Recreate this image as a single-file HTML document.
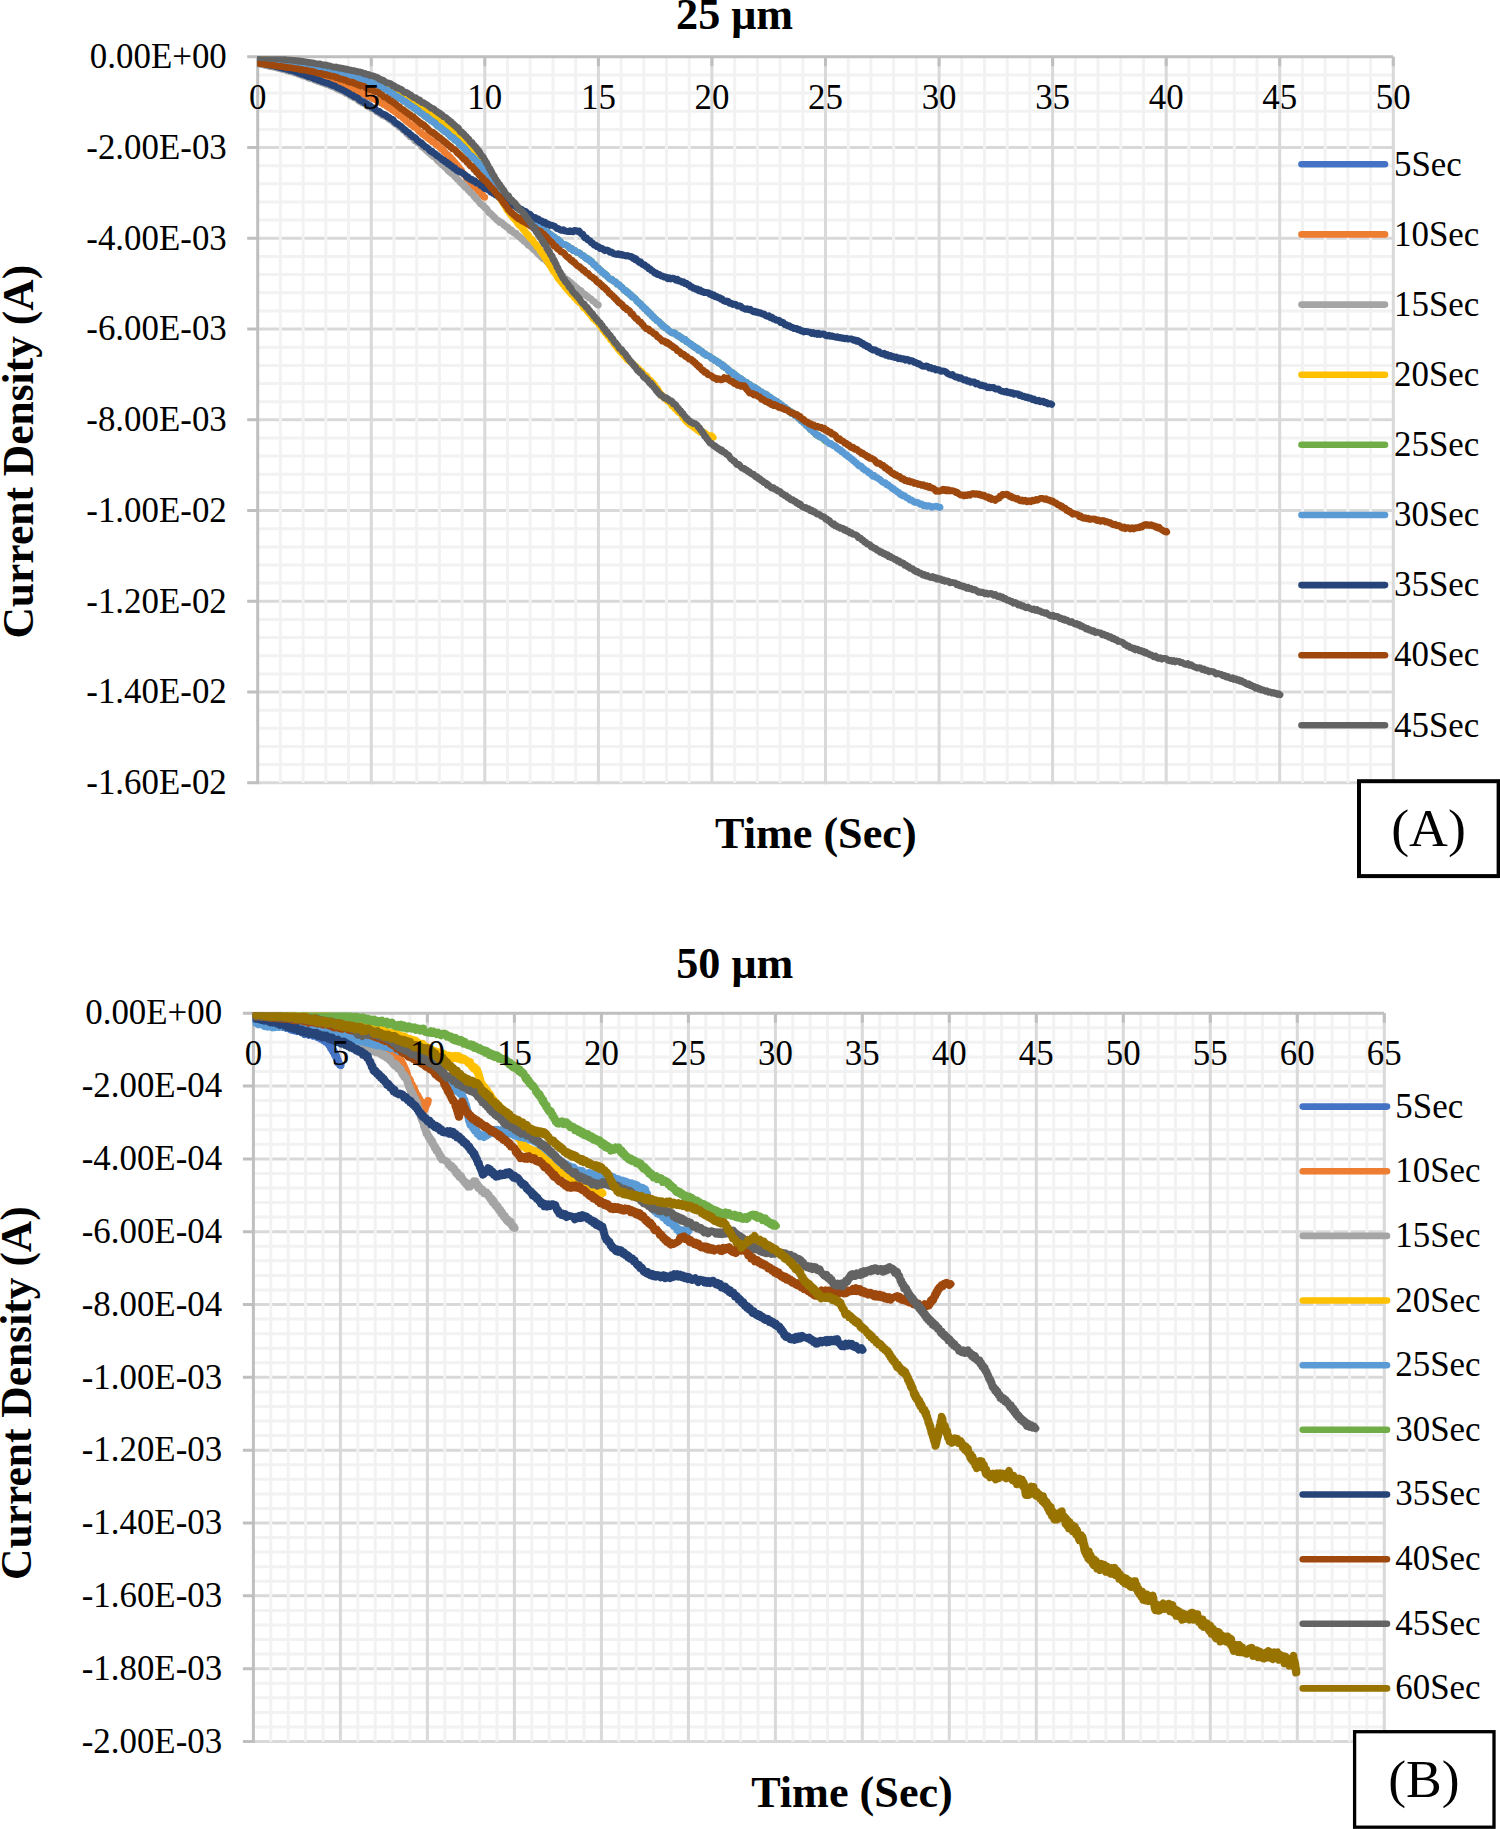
<!DOCTYPE html>
<html lang="en">
<head>
<meta charset="utf-8">
<title>Current density vs time: 25 μm and 50 μm</title>
<style>
html,body{margin:0;padding:0;background:#fff;}
body{width:1500px;height:1829px;overflow:hidden;font-family:"Liberation Serif", "DejaVu Serif", serif;}
svg{display:block;}
</style>
</head>
<body>
<svg width="1500" height="1829" viewBox="0 0 1500 1829" font-family='"Liberation Serif", "DejaVu Serif", serif' fill="#000">
<rect width="1500" height="1829" fill="#fff"/>
<g id="chartA">
<path d="M257.7 147.6H1394.8M257.7 238.3H1394.8M257.7 329.1H1394.8M257.7 419.8H1394.8M257.7 510.6H1394.8M257.7 601.3H1394.8M257.7 692H1394.8M257.7 782.8H1394.8" stroke="#d9d9d9" stroke-width="3" fill="none"/>
<path d="M257.7 74.9H1393.3M257.7 93.1H1393.3M257.7 111.2H1393.3M257.7 129.4H1393.3M257.7 165.7H1393.3M257.7 183.8H1393.3M257.7 202H1393.3M257.7 220.1H1393.3M257.7 256.4H1393.3M257.7 274.6H1393.3M257.7 292.8H1393.3M257.7 310.9H1393.3M257.7 347.2H1393.3M257.7 365.4H1393.3M257.7 383.5H1393.3M257.7 401.7H1393.3M257.7 437.9H1393.3M257.7 456.1H1393.3M257.7 474.2H1393.3M257.7 492.4H1393.3M257.7 528.7H1393.3M257.7 546.9H1393.3M257.7 565H1393.3M257.7 583.1H1393.3M257.7 619.4H1393.3M257.7 637.6H1393.3M257.7 655.8H1393.3M257.7 673.9H1393.3M257.7 710.2H1393.3M257.7 728.3H1393.3M257.7 746.5H1393.3M257.7 764.6H1393.3" stroke="#f2f2f2" stroke-width="3" fill="none"/>
<path d="M371.3 56.8V784.3M484.8 56.8V784.3M598.4 56.8V784.3M711.9 56.8V784.3M825.5 56.8V784.3M939.1 56.8V784.3M1052.6 56.8V784.3M1166.2 56.8V784.3M1279.7 56.8V784.3M1393.3 56.8V784.3" stroke="#d9d9d9" stroke-width="3" fill="none"/>
<path d="M280.4 56.8V783.1M303.1 56.8V783.1M325.8 56.8V783.1M348.5 56.8V783.1M394 56.8V783.1M416.7 56.8V783.1M439.4 56.8V783.1M462.1 56.8V783.1M507.5 56.8V783.1M530.2 56.8V783.1M553 56.8V783.1M575.7 56.8V783.1M621.1 56.8V783.1M643.8 56.8V783.1M666.5 56.8V783.1M689.2 56.8V783.1M734.7 56.8V783.1M757.4 56.8V783.1M780.1 56.8V783.1M802.8 56.8V783.1M848.2 56.8V783.1M870.9 56.8V783.1M893.6 56.8V783.1M916.3 56.8V783.1M961.8 56.8V783.1M984.5 56.8V783.1M1007.2 56.8V783.1M1029.9 56.8V783.1M1075.3 56.8V783.1M1098 56.8V783.1M1120.8 56.8V783.1M1143.5 56.8V783.1M1188.9 56.8V783.1M1211.6 56.8V783.1M1234.3 56.8V783.1M1257 56.8V783.1M1302.5 56.8V783.1M1325.2 56.8V783.1M1347.9 56.8V783.1M1370.6 56.8V783.1" stroke="#f2f2f2" stroke-width="3" fill="none"/>
<path d="M247.2 56.8H1393.1M257.7 55.3V784.3M247.2 147.6H257.7M247.2 238.3H257.7M247.2 329.1H257.7M247.2 419.8H257.7M247.2 510.6H257.7M247.2 601.3H257.7M247.2 692H257.7M247.2 782.8H257.7M371.3 56.8V66.3M484.8 56.8V66.3M598.4 56.8V66.3M711.9 56.8V66.3M825.5 56.8V66.3M939.1 56.8V66.3M1052.6 56.8V66.3M1166.2 56.8V66.3M1279.7 56.8V66.3M1393.3 56.8V66.3" stroke="#bfbfbf" stroke-width="3" fill="none"/>
<clipPath id="clipA"><rect x="257" y="56.2" width="1300" height="900"/></clipPath>
<g clip-path="url(#clipA)">
<path d="M257 61.9 258.3 62.3 259.7 62.4 261.5 62.7 263.3 63.2 265.1 63.3 266.7 63.6 268.3 64.1 269.9 64.2 271.5 64.6 273.1 64.7 274.7 65.2 276.2 65.2 277.7 65.5 279.3 66 280.8 66 282.3 66.6 283.9 66.5 285.4 66.8 286.8 67.5 288.3 67.8 289.8 67.7 291.3 68.4 292.8 68.4 294.2 69 295.9 69.2 297.6 69.5 299.2 70.3 300.9 70.8 302.6 70.9 304.2 71.1 305.9 72 307.5 72.1 309.1 72.9 310.7 73 312.3 73.9 313.9 74.1 315.4 74.9 317 75.1 318.5 76 320 76.1 321.6 76.9 323.1 77.1 324.6 78.1 326.1 78.2 327.7 78.7 329.2 79.8 330.7 79.9 332.2 80.9 333.7 81 335.1 81.6 336.6 82.6 338.1 82.9 339.6 83.8 341.1 83.9 342.5 85.1 344 85.3 345.4 86.3 346.9 86.5 348.3 87.6 349.8 87.6 351.2 89 352.6 89.1 354 90.2 355.4 91 356.8 91.1 358.2 92.4 359.8 93.2 361.4 93.4 363 94.5 364.6 94.7 366 95.2 367.5 96.6 368.9 96.6 371 98" stroke="#4472c4" stroke-width="6.8" fill="none" stroke-linejoin="round" stroke-linecap="round"/>
<path d="M257 62.4 259.1 62.7 260.4 63.2 261.8 63.3 263.2 63.8 264.7 63.8 266.3 64.3 267.8 64.4 269.4 64.9 271 65 272.7 65.5 274.3 65.7 276 66.2 277.6 66.2 279.2 66.5 280.8 67.1 282.3 67.2 283.9 67.8 285.5 67.9 287 68.5 288.5 68.5 290 69.1 291.5 69.2 292.9 69.9 294.4 69.9 295.8 70.5 297.2 70.5 298.6 71.3 300 71.3 301.7 72 303.4 72.2 305 72.5 306.7 73.1 308.3 73.9 309.9 74.5 311.5 74.6 313.1 75.4 314.7 75.9 316.3 76.3 317.8 76.9 319.4 77 320.9 77.8 322.4 77.9 323.9 78.8 325.4 78.7 326.9 79.6 328.4 79.7 329.8 80.2 331.3 81.2 332.8 81.8 334.4 81.8 336 83 337.6 83.6 338.9 83.6 340.3 84.6 341.7 84.5 343 85.7 344.4 86.3 345.9 86.3 347.3 87.3 348.8 87.5 350.2 88.5 351.7 88.6 353.3 89.8 354.8 89.9 356.4 91.1 357.9 91.1 359.5 92.3 360.9 92.5 362.4 93.6 363.8 93.6 365.3 95 366.7 95.1 368.1 96.5 369.4 96.4 370.7 96.8 372.1 98.2 373.4 98.4 374.9 99.7 376.4 99.8 378 101.4 379.5 101.5 380.9 103.2 382.2 103.2 383.6 104.6 385 104.8 386.4 106.3 387.8 106.5 389.2 108.1 390.6 108.5 392 110.1 393.5 110.3 394.9 111.9 396.3 112.4 397.5 114.1 398.6 114.3 399.8 115.9 400.9 115.8 402.1 116.6 403.2 118.3 404.4 118.8 405.6 120.5 406.8 121.5 407.9 122.4 409.1 122.6 410.2 124.2 411.4 125.2 412.6 125.2 413.7 127 414.9 127 416 127.7 417.2 128.8 418.3 130.6 419.5 131.7 420.6 131.8 421.8 133.4 422.9 134.6 424.1 134.4 425.2 136.3 426.3 136.2 427.5 138.1 428.6 138 429.8 139.8 430.9 139.9 432.2 141.9 433.5 141.8 434.8 143 436.1 144.8 437.3 145.2 438.5 146.2 439.7 147.2 440.9 148.9 442 149 443.1 149.8 444.2 152.1 445.2 152.1 446.6 154.5 447.9 154.6 449.2 156.8 450.4 157.1 451.6 159.5 452.8 159.6 453.9 161.9 455.1 162.4 456.2 164.4 457.3 164.7 458.3 167.2 459.4 167.5 460.4 169.4 461.3 169.8 462.3 172.2 463.2 173.5 464.1 174.9 465 175 466.1 177.5 467.3 179.2 468.4 179 469.4 181.7 470.4 182.8 471.3 182.9 472.3 185 473.3 185.3 474.4 187.5 475.6 187.6 476.8 188.8 478 191.1 479.4 191.6 480.7 192.9 481.7 194.9 482.7 195 484 197.2 484.7 197.3" stroke="#ed7d31" stroke-width="6.8" fill="none" stroke-linejoin="round" stroke-linecap="round"/>
<path d="M257 63.4 259.1 64.1 260.4 64.2 261.8 64.7 263.2 64.8 264.7 65.4 266.3 65.8 267.8 65.9 269.4 66.5 271 66.6 272.7 67.2 274.3 67.3 276 67.9 277.6 68.1 279.2 68.7 280.8 68.8 282.3 69.6 283.9 69.7 285.5 70.1 287 70.8 288.5 71 290 71.7 291.5 71.8 292.9 72.2 294.4 73.1 295.8 73.2 297.2 73.6 298.6 74.5 300 74.5 301.7 75.5 303.4 76.2 305 76.4 306.7 77 308.3 78.1 309.9 78.7 311.5 78.8 313.1 79.4 314.7 80.4 316.3 80.6 317.8 81.5 319.4 81.8 320.9 82.6 322.4 82.8 323.9 83.7 325.4 83.9 326.9 84.7 328.4 84.8 329.8 85.8 331.3 86.5 332.6 86.4 333.9 87.5 335.3 87.7 336.6 88.7 338 89.5 339.5 90.2 341 90.5 342.5 91.7 344 91.8 345.5 93.3 346.9 93.5 348.4 94.3 349.8 95.7 351.2 96.4 352.6 96.6 354 98 355.3 98.3 356.7 98.9 358 100.3 359.3 101.4 360.6 101.6 362 103 363.3 103.2 364.6 103.9 366 104.8 367.3 106.2 368.6 107 370 107.2 371.3 108.6 372.6 108.7 374 109.4 375.3 110.2 376.6 111.9 378 112 379.3 113.4 380.6 113.7 382 115.3 383.3 115.1 384.6 116.6 386 116.8 387.3 117.5 388.8 119.2 390.3 119.6 391.8 121.3 393 121.7 394.2 123.3 395.5 124.2 396.7 124.2 398 125.2 399.4 127.4 400.7 127.7 402.1 128.7 403.2 130.5 404.4 130.7 405.6 131.8 406.8 133.8 407.9 133.8 409.1 135.8 410.2 137 411.4 137.2 412.6 137.7 413.7 138.9 414.9 140.9 416 141.2 417.2 142.7 418.3 142.8 419.5 143.7 420.6 144.6 421.8 146.8 422.9 147 424.1 148.6 425.2 148.8 426.3 150.7 427.5 150.9 428.6 152.7 429.8 152.9 430.9 154.7 432 154.7 433.2 156.6 434.3 156.6 435.4 157.5 436.6 159.5 437.7 160.9 438.8 160.8 440 162.7 441.1 163.9 442.2 164.9 443.4 165 444.5 167 445.6 167.4 446.8 169.1 447.9 170.5 449 171.7 450.2 171.5 451.3 173.5 452.5 173.6 453.6 174.7 454.8 176.7 456 177.1 457.2 179.3 458.3 179.3 459.6 181.7 460.9 183 462.2 183 463.1 185.1 464.1 185 465.1 187.3 466 187.4 467 188 468.2 190.5 469.3 190.6 470.7 193 472 193.6 473 194.3 474 196.5 475 196.6 476.1 199 477.2 198.9 478.3 201.1 479.4 202.4 480.5 204 481.6 204 482.8 205.9 483.9 206 485 208.1 486.1 208.2 487.2 209.5 488.3 211.7 489.4 213.1 490.6 213.2 491.7 215.1 492.8 215.4 493.9 217.3 495 217.4 496.1 219.3 497.2 220.5 498.4 220.3 499.5 222.4 500.6 222 501.7 222.6 502.8 223.4 503.9 225.4 505 225.1 506.1 227 507.2 226.8 508.3 227.7 509.4 229.8 510.6 230.8 511.7 230.1 512.8 232.2 513.9 233.1 515 232.7 516.1 233.3 517.2 235.5 518.3 235.3 519.4 237.2 520.5 237.1 521.6 239.3 522.8 239.2 523.9 241.3 525 241.1 526.1 241.7 527.2 244 528.3 245.3 529.4 245.1 530.6 246.8 531.7 246.9 533.1 249.5 534.6 249.9 535.9 251.7 537.1 252.1 538.1 254.2 539.2 254 540.8 256.8 541.9 256.7 542.9 258.8 544.1 258.8 545.4 259.5 546.9 262 548.3 262.2 549.4 264.4 550.6 264.2 551.7 265 552.7 267.1 553.8 267.1 554.8 269.1 556.3 269.2 557.7 270.5 559.1 273 560.5 273 561.7 275.5 563 275.8 564.4 278.3 565.9 278.7 567 280.5 568.1 280.2 569.2 282.3 570.4 282.2 571.7 283.3 572.9 285.3 574.3 285.3 575.7 287.6 577.1 287.8 578.4 289.9 579.8 290 581.1 290.7 582.4 293 583.8 294.4 585.1 294.2 586.4 296.2 587.6 296.2 588.9 298.2 590.2 298.3 591.4 299.2 592.7 301.1 594.1 301.3 595.5 303.2 597.4 304.9 598.3 305" stroke="#a5a5a5" stroke-width="6.8" fill="none" stroke-linejoin="round" stroke-linecap="round"/>
<path d="M257 59.1 258.3 59 259.7 59.3 261.5 59.4 263.3 59.7 265.1 59.9 266.7 59.8 268.3 60 269.9 60.3 271.5 60.2 273.1 60.6 274.7 60.5 276.2 60.9 277.7 60.8 279.3 61.2 280.8 61 282.3 61.5 283.9 61.4 285.4 61.9 286.9 62.1 288.4 61.9 289.9 62.3 291.4 62.2 292.9 62.6 294.4 62.9 295.9 63.2 297.4 63 298.9 63 300.4 63.7 301.8 63.6 303.3 64.1 304.8 63.9 306.5 64.6 308.2 64.5 309.9 65.2 311.6 65.5 313.3 65.3 315 66 316.7 65.9 318.3 66.6 320 66.5 321.7 67.2 323.3 67.1 325 68 326.6 67.7 328.1 68.5 329.7 68.8 331.3 68.7 332.9 68.9 334.4 69.8 335.9 69.8 337.4 70.6 338.9 70.4 340.4 71.1 341.9 71.5 343.4 71.2 345 72.1 346.7 72.1 348.4 72.9 350 72.9 351.7 73.8 353.3 74.3 354.8 74 356.4 74.4 357.9 75.3 359.5 75.3 360.9 76.3 362.4 76.7 363.8 76.4 365.3 77.6 366.7 77.5 368.4 77.9 370.1 78.4 371.7 79.9 373.4 79.9 374.9 81.2 376.4 81.1 378 82.5 379.5 82.4 380.9 83.9 382.2 83.8 383.6 84.6 385 86.1 386.4 86.2 387.8 86.8 389.2 88.2 390.6 88.5 392 89.9 393.5 90.9 394.9 90.9 396.3 92.3 397.7 92.4 399.2 94.1 400.6 94.3 402.1 95.8 403.5 95.9 405 97.6 406.5 97.7 407.9 99.6 409.4 99.6 410.8 101.4 412.3 101.4 413.7 103 415.2 103.3 416.6 104.1 418.1 104.9 419.5 105.9 420.9 107 422.4 108.8 423.8 108.9 425.2 110.7 426.6 111.1 428 112.9 429.5 113.2 430.9 113.8 432.3 115 433.7 116.9 435.1 117 436.6 119 438 119.2 439.4 121.3 440.8 122.6 442.2 123.8 443.4 123.7 444.5 125.4 445.6 125.3 446.8 127.2 447.9 127.1 449 127.8 450.2 129.8 451.3 130 452.5 132 453.6 131.9 454.9 133.8 456.1 134.2 457.4 136.2 458.7 136.5 459.9 137.2 461 138.3 462.1 140.6 463.3 142.1 464.3 143.1 465.3 143.3 466.3 145.1 467.3 145.3 468.5 147.5 469.6 149.2 470.8 149.6 471.8 151.6 472.8 151.8 473.8 152.9 474.7 154.9 475.6 155 476.5 156.2 477.6 159 478.7 159.5 479.6 160.3 480.6 162.7 481.6 163.4 482.7 166 483.6 166.5 484.4 167.5 485.2 169.1 485.9 170.1 486.6 172.8 487.4 173.1 488.1 175.4 488.9 176.7 489.6 178 490.4 178.4 491.2 179.5 491.9 182.3 492.6 182.3 493.4 184.8 494.1 185.1 494.9 186.3 495.7 189.1 496.5 189.6 497.2 192.1 497.9 192.3 498.6 194.5 499.5 195.4 500.4 198.3 501.2 200 502.1 200.6 503 203.3 503.9 203.7 504.8 206.2 505.6 206.8 506.5 209 507.4 210.6 508.2 210.6 508.9 212.6 509.7 212.4 510.7 215 511.7 215 512.7 217.6 513.9 218.1 515.1 220.1 516.3 220.9 517.3 223 518.4 224.5 519.4 225.8 520.4 225.6 521.4 226.7 522.4 228.9 523.4 228.9 524.4 231.1 525.3 231.3 526.3 233.5 527.2 234.8 528.2 234.6 529.3 237.2 530.5 238.9 531.7 239 532.8 240.2 533.9 242.8 535 243.4 536 244.2 536.9 246.8 537.9 246.7 539.1 248.3 540.3 251 541.3 251.4 542.2 253.8 543 253.9 543.8 256 544.8 257.7 545.8 258 546.7 260.5 547.6 260.8 548.4 263.4 549.2 264.6 550 265.9 550.8 266 551.6 268.5 552.6 269.9 553.5 271.7 554.4 271.9 555.4 274.2 556.4 275 557.4 277.4 558.4 279 559.4 279.3 560.5 281.6 561.6 281.9 562.7 284.3 563.8 284.7 565 287.3 566.2 287.8 567.3 289.9 568.5 290.6 569.5 292.3 570.5 292.4 571.5 294.7 572.5 294.7 573.5 295.5 574.7 298 575.9 298.3 577.1 300.5 578.3 301 579.5 302.9 580.6 303.1 581.8 304.3 582.9 306.7 584 308.3 585.2 308.2 586.3 309.1 587.4 311.8 588.4 312 589.5 314 590.6 314 591.6 316.5 592.8 318.1 594 319.4 595.2 319.7 596.1 321.5 597.1 321.9 598.1 322.7 599.2 325 600.2 325.6 601 327.4 601.8 327.6 603 330.3 604.2 330.5 605.3 333.2 606.4 333.5 607.6 336.1 608.6 336.5 609.7 337.4 610.8 340.1 611.9 340.6 612.9 341.5 614 344.2 615 344.3 616.1 346.8 617.1 347.2 618.1 349.4 619.1 349.6 620 351.7 621 351.7 622 353.9 623.1 354.1 624.2 356.4 625.4 356.7 626.5 358.9 627.5 360.2 628.6 359.6 629.6 361.5 630.6 361.8 631.9 363.6 633.1 363.9 634.4 365.6 635.6 366 636.9 367.8 638.1 368.2 639.4 370 640.6 371.4 641.9 371.4 643.1 373.6 644.4 375.2 645.6 375.2 646.9 376.2 648.1 378.5 649.4 380 650.5 380.2 651.5 382.4 652.6 382.4 653.5 384.3 654.5 384.6 655.4 386.8 656.5 388.5 657.6 388.6 658.5 390.8 659.4 392.6 660.2 392.8 661.1 394.8 661.9 396.2 662.7 395.7 664.2 398.3 665.8 398.7 666.7 400.6 667.6 400.4 668.6 401.4 669.7 402.6 670.9 403.5 672.1 406 673.5 406.4 674.9 408.7 676.2 409.1 677.4 411.2 678.6 412.6 679.8 413 680.9 413.7 682 415.3 683 417.8 684 418.1 685.1 420.4 686.1 420.7 687.2 422.5 688.4 422.4 689.6 424.7 690.8 424.7 692 426.4 693.2 426.4 694.5 428.2 695.7 427.8 696.9 429.6 698.1 430.8 699.2 431.5 700.4 432.2 701.5 431.1 702.6 432.9 704.8 432.6 706.8 434.6 708.7 436 710.6 435.7 711.9 435.9 712.8 437.6 713.3 437.5" stroke="#ffc000" stroke-width="6.8" fill="none" stroke-linejoin="round" stroke-linecap="round"/>
<path d="M257 59.6 258.3 59.5 259.7 59.9 261.5 60 263.3 60.3 265.1 60.3 266.7 60.7 268.3 60.7 269.9 61.1 271.5 61.3 273.1 61.5 274.7 61.8 276.2 61.7 277.7 61.7 279.3 62.2 280.8 62.5 282.3 62.7 283.9 62.9 285.4 62.7 286.9 63.2 288.4 63.1 289.9 63.6 291.4 63.9 292.9 64.1 294.4 63.9 295.9 64.4 297.4 64.4 298.9 64.9 300.4 65.2 301.8 65.1 303.3 65.5 304.8 65.8 306.5 65.7 308.2 66.4 309.9 66.4 311.6 66.9 313.3 67.3 315 67.1 316.7 67.7 318.3 67.6 320 68.4 321.7 68.8 323.3 68.8 325 69 326.6 69.7 328.1 69.5 329.7 70.4 331.3 70.2 332.9 71.1 334.4 71.5 335.9 71.4 337.4 72.2 338.9 72 340.4 72.9 341.9 73.4 343.4 73.1 345 74 346.7 73.9 348.4 75 350 74.9 351.7 75.8 353.3 75.7 354.8 76.2 356.4 77.3 357.9 77.1 359.5 78.2 360.9 78.8 362.4 78.7 363.8 79.6 365.3 80.3 366.7 80.3 368.1 81.3 369.4 81.4 370.7 81.7 372.1 82.9 373.4 82.8 374.9 84.3 376.4 84.4 378 84.9 379.5 86.4 380.9 86.6 382.2 88.2 383.6 88.3 385 89.7 386.4 89.8 387.8 90.4 389.2 92.1 390.6 92.1 392 93.8 393.5 94 394.9 95.7 396.3 96.6 397.7 96.7 399.2 98.5 400.6 98.6 402.1 99.3 403.5 101.1 405 101.4 406.5 102.4 407.9 104.2 409.4 104.3 410.8 106.1 412.3 106.3 413.7 108.1 415.2 108.2 416.6 110.3 418.1 110.3 419.5 112 420.9 113.3 422.4 113.5 423.8 115.3 425.2 116.6 426.6 116.5 428 118.5 429.5 118.8 430.9 120.8 432.3 121 433.7 122.6 435.1 122.8 436.6 125 437.7 126.1 438.8 126.1 440 127.8 441.1 127.7 442.2 129.7 443.4 129.7 444.5 131.6 445.6 131.4 446.8 132.3 447.9 134.1 449 134.3 450.2 136.1 451.3 137.3 452.5 137.4 453.6 137.9 454.7 140.1 455.9 140.4 457 141.1 458.1 142 459.3 144.4 460.4 144.5 461.5 146.4 462.7 146.6 463.8 148.6 464.9 148.6 466.1 151.2 467.2 151.4 468.3 153.4 469.5 154.9 470.6 156 471.7 155.9 472.9 158.2 474 158.2 475.2 159.5 476.3 161.7 477.4 162.2 478.6 162.9 479.7 165.7 480.9 165.6 482 168.1 483.2 168.6 484.4 170.8 485.6 170.9 486.8 172.4 488 174.9 488.8 176.2 489.6 176.1 490.6 176.8 491.6 178.1 492.6 180.7 493.8 180.9 495 183.4 496.2 183.8 497.2 185.1 498.2 186.1 499.2 188.4 500.3 189.7 501.4 189.7 502.5 190.9 503.8 193.5 505 193.9 506.3 196 507.3 196.2 508.4 198.4 509.4 198.5 510.4 200.4 511.5 200.4 512.6 202.9 513.7 203 514.8 205.1 516 205.1 517.1 207.1 518.3 208.7 519.4 208.7 520.6 210.7 521.8 210.7 523 213.2 524.2 214.4 525.5 214.6 526.7 216.7 528 216.9 529.2 218.8 530.3 218.7 531.5 220.8 532.6 220.9 533.8 222.8 535.2 223.1 536.6 224.1 537.9 226.3 539.2 226.5 540.4 228.4 541.7 229.4 542.8 229.3 543.9 231.1 545 230.7 546.1 232.6 547.2 232 548.3 232.6 549.4 234.5 550.6 234.3 551.7 236.1 552.8 236 553.9 237.9 555 237.7 556.1 239.3 557.2 239.3 558.3 239.6 559.4 241.8 560.5 241.6 561.6 243.2 563.3 244.5 565 244.5 566.7 245.4 568.3 246.4 570 248.6 571.7 248.4 573.3 250.7 575 250.4 576.7 252.4 578.4 252.3 580 253.3 581.7 255.4 583.4 255.6 585 257.4 586.1 258.4 587.2 258.2 588.3 259.9 589.4 259.7 590.6 261.7 591.7 261.4 592.8 263.4 593.9 264.9 595 264.6 596.1 266.7 597.2 267.8 598.3 267.8 599.6 270 600.8 270.3 602.1 272.5 603.4 272.4 604.8 274.5 606.2 274.7 607.4 276.7 608.5 277.6 609.7 278.8 610.8 279.6 612 279.5 613.3 281.1 614.5 281.3 615.8 281.8 617 284.2 618.3 284.1 619.5 285 620.8 287 622 287.2 623.3 289.3 624.5 290.5 625.8 290.4 627 292.6 628.3 292.5 629.5 294.7 630.8 294.6 632 297 633.3 297 634.5 298.1 635.8 299.1 637 301.3 638.3 301.8 639.5 303.7 640.8 303.9 642 306.4 643.3 306.6 644.5 308.7 645.8 308.8 647 311.3 648.3 311.3 649.5 313.7 650.8 313.8 652 316.2 653.3 316.5 654.5 318.6 655.8 319 657 320.9 658.2 321.1 659.4 322 660.6 324.1 661.7 324.1 662.9 326.4 664 326.3 665.2 327.9 666.6 328.2 668.1 330.1 669.6 331.2 671 332.3 672.3 333 673.7 332.6 675.1 333.2 676.4 335 677.7 335.9 679 335.6 680.2 337.5 681.5 337.5 682.6 339.4 683.8 339.1 685 339.4 686.1 341.5 687.2 341.2 688.3 342.8 689.4 342.8 690.5 344.6 691.6 344.5 692.8 346.1 693.9 346 695 347.9 696.1 347.7 697.2 348 698.3 350.1 699.4 349.7 700.6 351.3 701.7 351.1 702.8 352.9 703.9 353.9 705 353.7 706.7 355.7 708.4 355.9 710 356.6 711.7 358.7 713.3 358.8 715 360.7 716.7 360.8 718.3 362.8 719.4 362.7 720.6 364.3 721.7 364.1 722.8 366.3 723.9 365.8 725 367.7 726.1 367.7 727.2 368.5 728.3 370.7 729.4 370.4 730.5 372.4 731.6 373.2 732.8 372.7 733.9 374.6 735 374.4 736.1 376.4 737.2 376.1 738.3 378 739.4 377.8 740.6 378.6 741.7 379.2 742.8 380.9 743.9 380.9 745 382.4 746.7 382.5 748.4 384.5 750 384.6 751.7 386.6 753.3 386.8 755 387.4 756.7 389.6 758.3 389.6 760 392 761.7 392 763.3 393.9 765 393.8 766.7 394.6 768.3 396.7 770 396.9 771.6 398.8 772.8 398.8 773.9 400.6 775 400.4 776.1 402.2 777.2 401.5 778.3 403.4 779.4 403.2 780.6 404.8 781.7 404.9 782.8 406.9 783.9 407.5 785 407.2 786.1 409.3 787.2 410.1 788.4 410 789.5 411.5 790.6 411.4 791.7 413.5 792.8 412.9 793.9 413.7 795 415.7 796.2 415.5 797.4 416.3 798.5 418.5 799.8 418.6 801 420.8 802.3 420.8 803.6 422.9 804.9 423.2 806.3 425.6 807.3 425.3 808.3 427.3 809.4 427.2 810.4 429.6 811.7 429.5 812.9 431.7 814.2 432.1 815.2 434 816.3 435 817.4 434.6 818.8 436.6 820.2 436.8 821.3 437.4 822.5 438 824.3 440.2 825.4 441.1 826 441" stroke="#70ad47" stroke-width="6.8" fill="none" stroke-linejoin="round" stroke-linecap="round"/>
<path d="M257 59.6 258.3 59.5 259.7 59.9 261.5 60 263.3 60.3 265.1 60.3 266.7 60.7 268.3 60.7 269.9 61.1 271.5 61.3 273.1 61.5 274.7 61.8 276.2 61.7 277.7 61.7 279.3 62.2 280.8 62.5 282.3 62.7 283.9 62.9 285.4 62.7 286.9 63.2 288.4 63.1 289.9 63.6 291.4 63.9 292.9 64.1 294.4 63.9 295.9 64.4 297.4 64.4 298.9 64.9 300.4 65.2 301.8 65.1 303.3 65.5 304.8 65.8 306.5 65.7 308.2 66.4 309.9 66.4 311.6 66.9 313.3 67.3 315 67.1 316.7 67.7 318.3 67.6 320 68.4 321.7 68.8 323.3 68.8 325 69 326.6 69.7 328.1 69.5 329.7 70.4 331.3 70.2 332.9 71.1 334.4 71.5 335.9 71.4 337.4 72.2 338.9 72 340.4 72.9 341.9 73.4 343.4 73.1 345 74 346.7 73.9 348.4 75 350 74.9 351.7 75.8 353.3 75.7 354.8 76.2 356.4 77.3 357.9 77.1 359.5 78.2 360.9 78.8 362.4 78.7 363.8 79.6 365.3 80.3 366.7 80.3 368.1 81.3 369.4 81.4 370.7 81.7 372.1 82.9 373.4 82.8 374.9 84.3 376.4 84.4 378 84.9 379.5 86.4 380.9 86.6 382.2 88.2 383.6 88.3 385 89.7 386.4 89.8 387.8 90.4 389.2 92.1 390.6 92.1 392 93.8 393.5 94 394.9 95.7 396.3 96.6 397.7 96.7 399.2 98.5 400.6 98.6 402.1 99.3 403.5 101.1 405 101.4 406.5 102.4 407.9 104.2 409.4 104.3 410.8 106.1 412.3 106.3 413.7 108.1 415.2 108.2 416.6 110.3 418.1 110.3 419.5 112 420.9 113.3 422.4 113.5 423.8 115.3 425.2 116.6 426.6 116.5 428 118.5 429.5 118.8 430.9 120.8 432.3 121 433.7 122.6 435.1 122.8 436.6 125 437.7 126.1 438.8 126.1 440 127.8 441.1 127.7 442.2 129.7 443.4 129.7 444.5 131.6 445.6 131.4 446.8 132.3 447.9 134.1 449 134.3 450.2 136.1 451.3 137.3 452.5 137.4 453.6 137.9 454.7 140.1 455.9 140.4 457 141.1 458.1 142 459.3 144.4 460.4 144.5 461.5 146.4 462.7 146.6 463.8 148.6 464.9 148.6 466.1 151.2 467.2 151.4 468.3 153.4 469.5 154.9 470.6 156 471.7 155.9 472.9 158.2 474 158.2 475.2 159.5 476.3 161.7 477.4 162.2 478.6 162.9 479.7 165.7 480.9 165.6 482 168.1 483.2 168.6 484.4 170.8 485.6 170.9 486.8 172.4 488 174.9 488.8 176.2 489.6 176.1 490.6 176.8 491.6 178.1 492.6 180.7 493.8 180.9 495 183.4 496.2 183.8 497.2 185.1 498.2 186.1 499.2 188.4 500.3 189.7 501.4 189.7 502.5 190.9 503.8 193.5 505 193.9 506.3 196 507.3 196.2 508.4 198.4 509.4 198.5 510.4 200.4 511.5 200.4 512.6 202.9 513.7 203 514.8 205.1 516 205.1 517.1 207.1 518.3 208.7 519.4 208.7 520.6 210.7 521.8 210.7 523 213.2 524.2 214.4 525.5 214.6 526.7 216.7 528 216.9 529.2 218.8 530.3 218.7 531.5 220.8 532.6 220.9 533.8 222.8 535.2 223.1 536.6 224.1 537.9 226.3 539.2 226.5 540.4 228.4 541.7 229.4 542.8 229.3 543.9 231.1 545 230.7 546.1 232.6 547.2 232 548.3 232.6 549.4 234.5 550.6 234.3 551.7 236.1 552.8 236 553.9 237.9 555 237.7 556.1 239.3 557.2 239.3 558.3 239.6 559.4 241.8 560.5 241.6 561.6 243.2 563.3 244.5 565 244.5 566.7 245.4 568.3 246.4 570 248.6 571.7 248.4 573.3 250.7 575 250.4 576.7 252.4 578.4 252.3 580 253.3 581.7 255.4 583.4 255.6 585 257.4 586.1 258.4 587.2 258.2 588.3 259.9 589.4 259.7 590.6 261.7 591.7 261.4 592.8 263.4 593.9 264.9 595 264.6 596.1 266.7 597.2 267.8 598.3 267.8 599.6 270 600.8 270.3 602.1 272.5 603.4 272.4 604.8 274.5 606.2 274.7 607.4 276.7 608.5 277.6 609.7 278.8 610.8 279.6 612 279.5 613.3 281.1 614.5 281.3 615.8 281.8 617 284.2 618.3 284.1 619.5 285 620.8 287 622 287.2 623.3 289.3 624.5 290.5 625.8 290.4 627 292.6 628.3 292.5 629.5 294.7 630.8 294.6 632 297 633.3 297 634.5 298.1 635.8 299.1 637 301.3 638.3 301.8 639.5 303.7 640.8 303.9 642 306.4 643.3 306.6 644.5 308.7 645.8 308.8 647 311.3 648.3 311.3 649.5 313.7 650.8 313.8 652 316.2 653.3 316.5 654.5 318.6 655.8 319 657 320.9 658.2 321.1 659.4 322 660.6 324.1 661.7 324.1 662.9 326.4 664 326.3 665.2 327.9 666.6 328.2 668.1 330.1 669.6 331.2 671 332.3 672.3 333 673.7 332.6 675.1 333.2 676.4 335 677.7 335.9 679 335.6 680.2 337.5 681.5 337.5 682.6 339.4 683.8 339.1 685 339.4 686.1 341.5 687.2 341.2 688.3 342.8 689.4 342.8 690.5 344.6 691.6 344.5 692.8 346.1 693.9 346 695 347.9 696.1 347.7 697.2 348 698.3 350.1 699.4 349.7 700.6 351.3 701.7 351.1 702.8 352.9 703.9 353.9 705 353.7 706.7 355.7 708.4 355.9 710 356.6 711.7 358.7 713.3 358.8 715 360.7 716.7 360.8 718.3 362.8 719.4 362.7 720.6 364.3 721.7 364.1 722.8 366.3 723.9 365.8 725 367.7 726.1 367.7 727.2 368.5 728.3 370.7 729.4 370.4 730.5 372.4 731.6 373.2 732.8 372.7 733.9 374.6 735 374.4 736.1 376.4 737.2 376.1 738.3 378 739.4 377.8 740.6 378.6 741.7 379.2 742.8 380.9 743.9 380.9 745 382.4 746.7 382.5 748.4 384.5 750 384.6 751.7 386.6 753.3 386.8 755 387.4 756.7 389.6 758.3 389.6 760 392 761.7 392 763.3 393.9 765 393.8 766.7 394.6 768.3 396.7 770 396.9 771.6 398.8 772.8 398.8 773.9 400.6 775 400.4 776.1 402.2 777.2 401.5 778.3 403.4 779.4 403.2 780.6 404.8 781.7 404.9 782.8 406.9 783.9 407.5 785 407.2 786.1 409.3 787.2 410.1 788.4 410 789.5 411.5 790.6 411.4 791.7 413.5 792.8 412.9 793.9 413.7 795 415.7 796.2 415.5 797.4 416.3 798.5 418.5 799.8 418.6 801 420.8 802.3 420.8 803.6 422.9 804.9 423.2 806.3 425.6 807.3 425.3 808.3 427.3 809.4 427.2 810.4 429.6 811.8 429.6 813.2 431.9 814.6 432.3 816 434.4 817.4 435.5 818.8 435.4 820.2 437.3 821.5 437.4 822.9 438.1 824.3 438.8 825.7 440.7 827.1 441.8 828.4 442.7 829.7 443.9 831 443.5 832.3 444.9 833.5 445.9 834.8 445.7 836 446.5 837.1 448.5 838.3 448.4 839.4 450.1 840.6 449.8 841.7 451.9 842.9 451.6 844.2 453.6 845.4 454.7 846.8 454.6 848.2 457 849.6 457.2 850.8 458.9 851.9 458.8 853.1 460.9 854.2 460.6 855.5 463 856.7 462.9 858 465.1 859.2 466.1 860.4 465.7 861.6 466.4 862.8 468.8 864 468.6 865.1 470.4 866.3 470.4 867.4 471 868.6 472.9 870 472.9 871.5 474.9 872.9 476.3 874.3 475.6 875.7 477.3 877.1 477.3 878.5 479 879.8 479.1 881.2 480.9 882.6 482.1 884 483 885.4 482.6 886.8 484.9 888.2 484.6 889.6 486.5 891 486.9 892.3 488.8 893.7 488.6 895.1 490.6 896.4 490.7 897.7 492.4 899 492.4 900.2 494.5 901.5 494.1 902.6 495.7 903.8 495.4 905 496.2 906.7 498.1 908.3 498.1 910 500.2 911.6 499.8 913.3 501.5 915 502.5 916.7 502.1 918.3 502.7 920 504.3 921.7 504 923.3 505.7 925 505.1 926.7 506.3 928.4 505.6 930 506 931.7 507.3 933.3 506.6 935 506.4 936.3 506.2 937.5 506.6 939.2 507.6 940 507.3" stroke="#5b9bd5" stroke-width="6.8" fill="none" stroke-linejoin="round" stroke-linecap="round"/>
<path d="M256.7 62.2 258.8 62.9 260.2 63.2 261.6 63.5 262.9 63.6 264.5 64.1 266.1 64.3 267.6 64.8 269.2 65 270.9 65.6 272.5 65.7 274.2 66.1 275.8 66.6 277.5 66.8 279.1 67.5 280.7 67.6 282.3 68.3 283.8 68.4 285.4 69 286.9 69.3 288.4 69.7 289.9 70.4 291.4 70.5 292.9 70.9 294.3 71.3 295.8 72.2 297.2 72.4 298.6 73.1 300 73.2 301.7 74.2 303.4 74.5 305 75.4 306.7 75.8 308.3 76.7 309.9 76.9 311.5 77.5 313.1 78 314.7 79 316.3 79.2 317.8 80.1 319.4 80.4 320.9 80.9 322.4 81.8 323.9 82 325.4 82.8 326.9 83.1 328.4 83.4 329.8 84.3 331.3 84.6 332.6 85.6 333.9 85.6 335.3 86.2 336.6 87.3 338 88 339.5 88.3 341 89.4 342.5 89.7 344 90.8 345.5 91.2 346.9 92.5 348.4 92.8 349.8 94.1 351.2 95 352.6 95.1 354 96.6 355.3 96.8 356.7 97.6 358 98.3 359.3 99.8 360.6 100.6 362 101.5 363.3 101.7 364.6 103 366 103.2 367.3 103.9 368.6 105.4 370 105.6 371.3 107 372.6 107.4 374 108.6 375.3 108.9 376.6 110.4 378 111.3 379.3 111.4 380.6 112.8 382 113.5 383.3 114.6 384.6 114.5 386 115.2 387.3 116.8 388.8 117 390.3 118.8 391.8 119 393 119.7 394.2 121.5 395.5 122.7 396.7 123.7 398 124 399.4 125.6 400.7 126 402.1 127.7 403.2 128.3 404.4 129.9 405.6 130.3 406.8 132 407.9 132.2 409.1 132.9 410.2 134.8 411.4 135 412.6 136.8 413.7 136.9 414.9 137.6 416 138.4 417.2 140.5 418.3 140.8 419.5 142.5 420.6 142.4 421.8 143.2 422.9 145.1 424.1 145.4 425.2 146.9 426.6 147.2 428 148.3 429.5 150.3 430.9 151.6 432.3 151.5 433.7 153.3 435.1 153.6 436.6 155.7 438 155.7 439.4 157.6 440.8 158 442.2 159.9 443.7 159.8 445.1 162 446.5 161.9 447.9 164 449.3 163.9 450.8 166 452.2 166.2 453.6 168.2 454.8 168 456 169.7 457.2 170.8 458.3 170.6 459.6 172.2 460.9 171.9 462.2 172.8 463.6 173.9 465.1 174.8 467 177.4 468.2 176.9 469.3 178.8 470.7 179.9 472 179.4 473.5 181.2 475 181 476.6 183.2 478.3 183.2 479.6 183.6 480.8 185.7 482 185.7 483.4 187.4 484.8 188.6 486.2 188 487.7 189.7 489.2 189.9 490.7 192 491.9 191.5 493.1 193.4 494.4 193 495.6 195.1 496.9 194.5 498.1 196.4 499.3 196.1 500.6 197.7 501.8 197.7 503.1 199.5 504.3 199.2 505.6 199.6 506.8 201.6 508.1 201.6 509.4 203 510.6 203 511.9 204.8 513.1 204.3 514.4 206.1 515.7 205.9 517.2 207.9 518.8 207.8 520.3 209.5 521.7 209.3 523.1 211 524.5 210.9 525.8 211.6 527.1 213.4 528.3 214.4 530 214.2 531.7 216.1 533.3 217.3 535 217.3 536.7 219.3 538.4 218.9 540 220.8 541.7 220.8 543.4 222.8 545 222.3 546.7 224.3 548.3 223.9 550 225.5 551.7 225.2 553.3 225.8 555 226.5 556.6 228.5 558.3 228.4 560 229.8 561.6 230.5 563.3 229.6 565 231.1 566.7 231.2 568.3 231.7 570 230.7 571.7 231.7 573.1 231.8 574.4 230.5 576.6 230.7 578.2 231.9 579.2 231 580.3 232.7 581.4 233.8 582.7 234 584 236.7 584.8 237.9 585.7 237.6 586.7 238 587.7 240 588.8 240.1 590 240.8 591.4 243.1 592.7 243 594.1 245.2 595.5 244.9 597 246.7 598.5 246.6 600.1 248.6 601.7 248.1 603.4 249.6 605 250.7 606.7 250 608.3 250.5 610 252.3 611.7 252 613.3 253.5 615 254.2 616.6 254.5 618.3 253.6 619.8 254.9 621.2 254.2 622.5 255.3 623.7 254.9 625.8 256 627.5 255.4 629.4 256.5 631.5 256.5 632.6 258.2 633.8 257.8 635 259.6 636.2 258.9 637.8 261.2 639.4 262.5 640.6 261.8 641.9 263.9 643.1 264.9 644.6 264.6 646 266.7 647.5 266.7 648.8 268.9 650 268.6 651.2 270.6 652.5 270.7 653.8 272.1 655 273.4 656.2 272.9 657.5 274.5 659.2 274.3 660.8 276 662.5 276 664.2 277.2 665.8 276.9 667.5 278.7 669.2 277.7 670.8 279 672.5 278.1 674.1 278.6 675.7 280.2 677.3 279.3 678.8 281.1 680.4 280.8 681.9 282.3 683.3 281.8 684.8 283.6 686.3 283.1 687.7 284.9 689 284.7 690.4 286.8 691.8 286.7 693.2 288.4 694.6 288.1 696 289.4 697.4 289 698.8 290.8 700.2 290.1 701.5 291.8 702.9 291.5 704.3 292.7 705.7 292.3 707.1 292.6 708.5 292.7 709.8 294.4 711.2 294 712.6 295.6 714 295 715.4 296.8 716.8 296.5 718.2 297.9 719.6 297.7 721 299.4 722.3 299 723.7 300.8 725.2 301.5 726.7 300.9 728.1 301.3 729.6 303.4 731.2 303.1 732.7 304.5 734.3 304.1 735.9 304.6 737.5 306.2 739.2 305.7 740.8 306.3 742.5 308 744.1 308.7 745.7 309.4 747.3 308.7 748.8 309.9 750.4 309.3 751.9 310.8 753.3 311.8 754.8 311.1 756.3 312.4 757.7 312 759 313 760.4 312.7 762.2 314.2 763.9 313.8 765.7 315.8 767.2 316.3 768.8 315.8 770.3 317.8 771.9 317.2 773.4 319.1 774.8 318.8 776.3 320.3 777.7 320.1 779.2 320.4 780.6 322.6 782 322.1 783.3 322.5 784.7 324.7 786.1 324.5 787.5 325.9 789.1 325.6 790.6 327.3 792.1 327.1 793.7 328.6 795.2 328.3 796.6 328.4 798 329.9 799.5 329.5 800.9 331 802.3 330.6 803.9 332 805.5 331.3 807.1 331.6 808.7 332.1 810.2 332.1 811.7 333.5 813.1 332.6 814.6 333.9 816 333.1 817.4 334.4 818.8 333.3 820.2 334.5 822 333.9 823.8 333.8 825.6 335.5 827.3 336 829.1 335.2 830.8 336.4 832.5 335.8 834.1 336.8 835.8 337.3 837.3 336.6 838.9 337.8 840.4 337.3 841.8 338.3 843.2 337.8 844.6 338.9 846.4 338.1 848.3 339.2 850 338.8 851.7 338.9 853.5 340.3 855.2 339.9 856.5 341.3 857.7 340.6 859 342 860.3 341.7 861.6 343.7 862.9 343.2 864.3 345.3 865.7 345 867.1 346.9 868.5 346.3 870 348.4 871.4 349.1 873 350.1 874.5 349.7 876 350.2 877.6 352.1 879.2 351.7 880.8 353.5 882.5 354 884.1 353.3 885.8 355.3 887.3 354.4 888.9 356.2 890.4 355.4 891.8 356.9 893.2 356.5 894.6 357.6 896.4 357 898.3 358.7 900 358 901.7 359.2 903.6 358.6 905.4 360.2 906.8 359.2 908.2 359.5 909.6 361.2 911.1 360.5 912.7 360.8 914.2 362.5 915.9 362.3 917.5 363.9 919.2 363.6 920.9 365.3 922.5 366.1 924.2 366.4 925.9 365.9 927.5 366.1 929.2 368.1 930.9 367.5 932.5 368.9 934.2 368.4 935.9 370.1 937.5 369.5 939.2 369.9 940.9 371.3 942.5 371 944.2 371.2 945.9 371.9 947.5 373.5 949.2 374.3 950.9 375 952.5 374.5 954.2 376.3 955.9 377.2 957.5 376.8 959.2 378.4 960.9 377.8 962.5 379.3 964.2 380.2 965.9 379.6 967.5 381.3 969.2 380.8 970.9 382.4 972.5 381.8 974.2 382 975.9 384 977.5 383.2 979.2 384.7 980.6 385.5 981.9 385 983.3 386 984.6 385.6 986.1 386.7 987.5 387.7 989 387 990.4 387.9 992 387.3 993.6 387.4 995.1 389.1 996.7 388.8 998.3 388.8 1000 390.4 1001.7 391.3 1003.3 391.4 1004.9 392.1 1006.4 391.2 1008 392.6 1009.6 392.1 1011 393.4 1012.5 392.8 1013.9 394.3 1015.4 393.4 1016.7 393.9 1018.1 394 1019.4 395.5 1020.8 395 1022.5 396.6 1024.1 396.2 1025.8 397.6 1027.4 396.9 1029.1 398.4 1030.7 398 1032.3 399.7 1033.9 398.9 1035.5 400.6 1037.1 401 1038.6 400.3 1040.2 401.8 1041.7 401.2 1043.3 401.2 1044.8 402.8 1046.5 402.3 1048.2 404 1050.6 403.6 1051.7 404.3" stroke="#264478" stroke-width="6.8" fill="none" stroke-linejoin="round" stroke-linecap="round"/>
<path d="M256.7 62.9 258.8 63.2 260.2 63.5 261.6 63.6 262.9 63.9 264.5 64 266.1 64.2 267.6 64.6 269.2 64.6 270.9 65.1 272.5 65.2 274.2 65.6 275.8 65.6 277.5 66.1 279.1 66.3 280.7 66.3 282.3 66.7 283.8 66.7 285.4 67.3 286.9 67.2 288.4 67.7 289.9 67.6 291.4 67.8 292.9 68 294.7 68.7 296.5 68.7 298.2 68.9 300 69.6 301.7 69.5 303.4 70.2 305 70.1 306.7 70.2 308.3 71 309.9 71 311.5 71.6 313.1 71.5 314.7 72.4 316.3 72.8 317.8 73.2 319.4 73.5 320.9 73.3 322.4 74.1 323.9 74.5 325.4 74.4 326.9 75 328.4 75.1 329.8 75.8 331.3 76.2 332.8 76.1 334.4 76.5 336 77.5 337.6 77.5 339.3 78.6 341 79.2 342.7 79.1 344.4 80.2 345.9 80.1 347.3 81.2 348.8 81.7 350.2 82.3 351.7 82.1 353.3 82.6 354.8 83.7 356.4 83.8 357.9 85 359.5 85 361.1 86 362.6 86 364.2 86.4 365.7 87.8 367.3 88.6 368.8 89.1 370.4 89.7 371.9 89.7 373.5 90.9 375 91.6 376.1 91.6 377.2 91.9 378.5 92.6 379.9 94.2 381.6 94.7 383.3 96.3 384.6 97.4 386 97.5 387.3 98.8 388.8 99.3 390.3 100.9 391.8 101.2 393 102.7 394.2 102.8 395.5 104.5 396.7 104.8 398 106.4 399.4 106.8 400.7 108.6 402.1 109.4 403.2 109.6 404.4 111.2 405.6 111.3 406.8 112.9 407.9 113.1 409.1 114.6 410.2 114.7 411.4 116.5 412.6 116.5 413.7 117.1 414.9 118.9 416 119.1 417.2 120.8 418.3 121.1 419.5 122.8 420.6 122.8 421.8 124.5 422.9 124.4 424.1 125.2 425.2 126.9 426.6 127.3 428 129 429.5 130.6 430.9 131.5 432 132.6 433.2 132.4 434.3 134 435.4 134.2 436.6 136 437.7 136 438.8 137.8 440 137.6 441.1 139.3 442.2 139.6 443.4 141.5 444.5 141.3 445.6 143.2 446.8 143.2 447.9 145.1 449 145.1 450.2 147.1 451.3 146.9 452.5 148.9 453.6 149.1 454.7 149.7 455.9 150.6 457 152.8 458.1 152.8 459.3 154.8 460.4 155 461.5 156.9 462.7 157.3 463.8 159.3 464.9 159.4 466.1 160.5 467.2 162.5 468.3 162.8 469.5 164.8 470.6 166.2 471.7 166 472.9 167 474 169.6 475.2 169.6 476.3 172 477.3 171.9 478.3 174 479.3 175.2 480.3 175.3 481.3 177.5 482.4 177.3 483.5 179.6 484.5 180.7 485.6 180.7 486.8 182.1 488 184.5 489.3 184.6 490.3 186.7 491.2 188.1 492.2 188 493.1 189.9 494.1 190.2 495 191.9 496.2 193.5 497.5 195.3 498.6 195.6 499.7 198.1 500.7 198.3 501.7 200.7 502.7 201.1 503.7 203.3 504.7 203.5 505.7 205.8 506.7 206.1 507.7 208.5 508.7 210 509.7 210.4 510.9 212.6 512.2 212.8 513.6 215.1 515.1 215.4 516.2 217.3 517.3 217.1 518.4 218.7 519.7 218.3 521 220.2 522.3 221.1 523.5 220.7 524.8 222.4 526.1 222.5 527.4 224 528.6 224 529.9 225.8 531.2 225.7 532.5 227.2 533.7 228.2 535 227.8 536.3 229.4 537.6 230.7 539.2 230.6 540.8 231.5 542.2 233.7 543.6 233.9 544.7 235.6 545.8 237.1 546.6 237 547.5 239 548.3 240.2 549.2 239.9 550 241.8 550.8 241.5 551.7 242.2 552.5 243.2 554.2 246.2 555.9 246.4 557.5 249 559.2 249.5 560.8 251.8 562.5 252.1 564.1 253.1 565.8 255.7 567.5 257.2 568.5 257.2 569.6 258.9 570.8 260.3 572.1 260.1 573.5 262.4 575 262.6 576.1 264.5 577.2 265.5 578.3 266.4 579.5 266.3 580.7 268.4 581.8 268.4 583.1 270.4 584.3 270.1 585.6 272.4 586.9 273.4 588.2 273.4 589.6 275.4 591 276.7 592.3 276.9 593.7 278.7 595.1 278.8 596.5 281.2 597.9 282.5 599 282.3 600 283.3 601 285.1 602.1 285.1 603.1 287.3 604.2 287.1 605.2 288.1 606.3 290 607.3 290 608.4 292.1 609.4 293.4 610.4 293.5 611.5 295.3 612.5 295.4 613.6 297.4 614.6 297.3 615.6 299.4 616.7 299.4 617.7 301.3 618.8 302.7 619.8 302.4 620.8 304.1 621.9 304.1 622.9 306.1 624.3 307.8 625.7 307.6 627.1 309.9 628.4 310 629.7 311 631 313.7 632.3 313.6 633.6 315.8 634.8 317.3 636 318.6 637.2 318.7 638.4 320.9 639.6 321.9 640.7 321.9 641.9 324.1 642.9 324.4 643.9 326.4 644.9 327.4 646.3 328.8 647.6 328.7 648.8 329.2 650 331.2 652 331.6 653.9 333.9 655.7 334.2 657.4 336.8 658.9 337.6 660.6 339.1 662.4 341.2 664.3 341 666.3 343 667.4 342.4 668.5 344.1 669.6 343.8 670.8 345.6 672.1 345.6 673.3 347.5 674.6 347.5 676 348.5 677.3 350.9 678.7 350.9 680 351.9 681.3 354 682.7 353.7 684 354.4 685.3 356.5 686.7 356.4 687.9 358 689.2 359.2 690.4 358.9 691.5 359.5 692.6 361.4 693.7 361.2 694.7 363 695.7 362.9 696.7 365 697.7 364.9 698.7 366.8 699.7 366.5 700.7 368.7 701.7 369.7 702.7 370.8 703.7 370.4 704.7 372.4 705.7 372.1 706.7 372.6 707.7 374.6 709.7 375 711.7 376 713.5 378 715.2 377.8 716.7 379.5 718 378.7 719.4 378.8 720.9 379.8 722.5 379.6 724.2 377.6 725.9 378.8 727.5 378 729.2 380 730.8 381.3 732.5 381.3 734.1 383.6 735.8 383.4 737.5 385.4 739.1 384.9 740.6 386.2 742 385.4 743.3 386.7 744.5 385.8 745.5 387.5 746.3 389.1 747 389.8 748.1 391 749.6 393.2 751.5 393.4 752.7 393.5 753.8 395 756 394.6 758 396.5 759.8 396.8 761.5 399.4 763.3 399.3 765.3 401.5 766.4 401.2 767.5 401.6 768.7 403 769.8 402.5 771 404.4 772.2 403.9 773.5 405.4 774.7 404.6 776 406 777.3 405.6 778.7 407.4 780 407.8 781.2 407.3 782.5 408.7 783.7 408.4 784.8 409.6 787 409.8 789 411.6 791 412.8 793 412.9 795 414.7 797 414.5 798.1 416.4 799.1 417 800.2 416.5 801.4 418.5 802.6 419.8 803.8 419.4 805 421.6 806.2 421.6 807.7 422.2 809.1 424.1 810.6 423.7 812.2 425.4 813.9 425 815.6 426.8 817.5 426.2 819.4 427.7 821.2 427.2 823.1 429.1 824.4 428.4 825.6 430.4 826.9 430 828.1 431.8 829.4 432.5 830.6 432 831.9 434.2 833.1 434.1 834.4 434.8 835.7 435.8 836.9 438.1 838.2 439.3 839.6 438.8 840.9 440.6 842.2 440.8 843.5 441.5 844.9 443.4 846.3 443.1 847.7 445.2 849 445 850.4 447 851.8 447.8 853.2 447.3 854.6 449.3 856 449 857.4 449.8 858.8 451.5 860.2 451.6 861.5 453.5 862.9 453.2 864.3 455.1 865.7 455 867.1 456.8 868.4 456.4 869.7 458.4 871 458 872.3 458.8 873.5 459.3 874.8 460.3 876 462.3 877.1 463.3 878.3 462.9 880 463.7 881.7 465.5 883.3 465.5 885 468 886.1 467.5 887.2 469.2 888.4 470.5 889.5 469.8 890.6 471.9 891.7 472.9 892.8 473.7 893.9 473.4 895 475 896.2 474.7 897.4 476.4 898.5 476.4 899.8 476.5 901 478.5 902.3 479.2 903.6 478.7 904.9 480.6 906.3 480.2 907.7 481.5 909 480.8 910.4 482.2 911.8 481.7 913.1 482.2 914.4 483.5 916.3 483.1 918.2 484.5 919.9 484.1 921.7 485.4 923.3 484.7 925 486.3 926.5 485.8 927.9 487.2 929.2 486.4 930.4 487.9 932.5 488 934.2 489 935.9 491.3 937.5 490.6 939.2 491.4 940.8 490.8 942.9 489.3 944.1 490.4 945.4 489.5 946.9 490.9 948.3 489.8 950 491.1 951.7 490.6 953.1 490.9 954.6 491.3 955.9 492.6 957.1 492.2 959.2 494.2 960.8 495.2 962.9 494.8 964.1 495.9 965.4 494.9 966.9 495.6 968.3 494.5 970 495.2 971.7 493.9 973.2 493.5 974.8 494.3 976.3 493.6 977.7 494.5 979.1 494 980.5 495.3 981.7 494.7 983 495.9 984.2 495.3 985.5 496.9 986.7 497.3 988 496.8 989.2 498.5 990.5 497.7 991.7 499.5 993 498.9 995.2 500.4 997.3 498.5 999.2 498.4 1000 496.2 1000.8 496.5 1002.7 494.3 1004.8 494.8 1007 494.1 1008.3 494.9 1009.5 496.5 1011 496.1 1012.4 497.9 1014 497.6 1015.7 499 1017.5 498.4 1019.3 500.3 1020.6 500.8 1022 499.9 1023.3 501.2 1025.2 500.2 1027.1 501.8 1029 500.7 1030.8 501.7 1032.6 500.1 1034.3 500.9 1036 499.5 1037.7 500.2 1039.3 498.9 1041 498.3 1042.7 498.4 1044.4 499.3 1046 498.7 1047.7 500 1049.3 499.9 1051 501.3 1052.7 501 1054.3 502.8 1056 502.8 1057.7 504.9 1059.3 504.8 1061 506.7 1062.1 506.2 1063.2 508.1 1064.3 507.8 1065.5 508.5 1066.6 510.5 1067.8 510.1 1069 511.8 1070.2 511.5 1071.5 513.2 1072.7 514.2 1074 513.4 1075.3 513.9 1076.6 514.4 1078 514.7 1079.3 516.7 1080.7 516 1082.2 517.8 1083.6 518.3 1085.2 517.6 1086.8 518.9 1088.3 518.2 1090 519.5 1091.7 519.1 1093.3 518.9 1095.1 519.1 1096.9 520.6 1098.7 520 1100.4 521.4 1102.1 520.5 1103.9 520.6 1105.5 522 1107.2 521.6 1108.9 523 1110.5 522.6 1112.1 524.2 1113.7 524.8 1115.2 524.3 1116.8 525.7 1118.3 525.4 1119.8 525.8 1121.2 527.4 1122.6 528 1124 527.1 1125.3 528.6 1126.6 527.7 1128.5 527.6 1130.3 529 1132 527.8 1133.7 529 1135.2 527.7 1136.8 528.2 1138.2 527.1 1139.6 527.8 1140.9 526.4 1142.2 527 1143.3 525.5 1144.5 524.8 1145.8 524.4 1147 525.4 1148.3 524.7 1149.7 525.5 1151.1 524.7 1152.5 525.9 1154 525.7 1155.5 527.2 1156.8 526.6 1158.2 528.1 1159.3 527.4 1160.5 529.1 1162.5 530.2 1164.2 531.3 1165.4 531.8 1166.3 531.3 1166.7 532" stroke="#9e480e" stroke-width="6.8" fill="none" stroke-linejoin="round" stroke-linecap="round"/>
<path d="M256.7 57.2 258.1 57.3 259.4 57.6 261.2 57.6 263 57.9 264.8 57.9 266.4 57.9 268.1 58.3 269.7 58.4 271.3 58.3 272.9 58.6 274.5 58.5 276 58.9 277.6 58.8 279.1 58.9 280.7 59.3 282.2 59.5 283.8 59.3 285.3 59.4 286.8 59.9 288.3 59.8 289.8 60.2 291.3 60.1 292.9 60.5 294.4 60.3 295.9 60.9 297.4 60.7 298.8 61.3 300.3 61 301.8 61.5 303.3 61.4 304.8 61.9 306.5 61.9 308.2 62.5 309.9 62.4 311.6 63 313.3 62.9 315 63.5 316.7 63.9 318.3 63.8 320 64 321.7 64.7 323.3 65 325 64.9 326.6 65.1 328.1 65.9 329.7 65.8 331.3 66.5 332.9 66.9 334.4 67.2 335.9 67 337.4 67.6 338.9 68.1 340.4 67.8 341.9 68.6 343.4 68.5 345 69.3 346.7 69 348.4 69.9 350 69.8 351.7 70.7 353.3 70.5 354.8 71.4 356.4 71.2 357.9 72.1 359.5 71.9 360.9 72.2 362.4 72.7 363.8 73.8 365.3 73.5 366.7 74.4 368.4 74.4 370.1 75.6 371.7 75.6 373.4 76 374.9 76.7 376.4 77.1 378 77.9 379.5 79.4 380.9 79.3 382.2 80.5 383.6 80.5 385 81.8 386.6 82.9 388.3 83 389.9 83.5 391.3 84.1 392.7 85.8 394.1 85.6 395.3 86.9 396.4 87.9 397.6 87.6 399.1 89 400.5 89 401.9 89.7 403.4 91.6 404.9 92.5 406.3 92.5 407.8 93.1 409.3 94.8 410.8 94.9 412.2 96.5 413.9 97.7 415.6 97.7 416.9 99 418.2 100.2 419.5 99.9 420.9 101.7 422.3 102.7 423.7 102.6 425.3 104.2 426.9 104.5 428.5 106.3 429.9 106.7 431.4 108.4 432.9 108.4 434.3 109.3 435.7 111.1 437 111.3 438.3 113 439.6 112.9 440.9 114.8 442.1 114.7 443.4 116.8 444.6 116.8 445.7 117.5 446.9 118.4 448 120.3 449.1 120.1 450.3 122.2 451.4 122 452.4 123.8 453.5 124 454.5 125.7 455.5 125.9 456.6 127.7 457.6 127.5 458.6 128.5 459.7 130.8 460.7 132 461.8 131.9 462.9 133.8 464 134 465.1 136.1 466.3 136.5 467.4 138.5 468.6 138.8 469.8 141.3 471 142.4 472 142.4 473.1 145 474.2 145.2 475.1 147.1 476.1 147.2 477 149.5 477.8 149.6 478.7 151.8 479.5 151.5 480.6 154.1 481.6 156.1 482.6 156.2 483.5 157.4 484.4 159.9 485.2 160.3 486 162.5 486.8 163 487.4 165.1 488 165.1 488.7 167.7 489.4 169 490.2 169 490.9 171.5 491.7 171.9 492.5 174.4 493.4 175 494.2 176 495.1 178.7 495.9 179.2 496.9 181.5 497.8 181.9 498.7 184.2 499.7 184.5 500.7 187.3 501.7 187.4 502.7 189.6 503.7 190.2 504.7 192.1 505.7 193.7 506.7 195.2 507.7 196.5 508.7 196.1 509.7 198.5 510.8 199.8 511.9 200 513 202.1 514.2 202.4 515.4 203.6 516.7 206.4 517.6 206.4 518.4 208.2 519.3 209.5 520.6 210 521.8 211 523 212.3 524.1 213.9 525.2 215 526.3 217.7 527.3 217.9 528.3 220.3 529.3 220.8 530.3 223.4 531.3 223.6 532.3 225.9 533.3 226.5 534.3 229.1 535.3 229.4 536.3 232 537.3 232.4 538.2 234.8 539.1 235.3 540.1 237.6 540.9 238.2 541.8 239.5 542.6 241.9 543.5 242 544.3 244.3 545.2 244.7 546 245.7 546.8 248.6 547.7 248.7 548.5 251.3 549.4 251.5 550.2 254.1 551.1 255.6 552.1 256 552.8 258.8 553.5 260.3 554.3 260.3 555.1 263.1 555.9 263.5 556.7 266.5 557.3 267.8 558 268 558.7 270.6 559.3 271.1 560.1 272.1 560.9 274.6 561.8 275.3 562.6 277.6 563.5 279.2 564.5 279.4 565.4 282 566.4 282.4 567.3 283.6 568.2 284.4 569 287 569.9 286.9 570.8 287.8 571.8 290.3 572.8 291.8 573.8 292.9 574.8 293.9 575.8 294.2 576.8 296.3 577.7 296.5 578.7 298.4 579.6 298.7 580.6 300.8 581.7 302.2 582.9 303.6 584 303.8 585.2 305.9 586.3 307.5 587.4 307.5 588.5 310.1 589.6 310.3 590.6 312.6 591.6 312.9 592.7 314.1 593.7 316.5 594.9 316.8 596.1 319.2 597.2 319.4 598.2 321.6 599.1 322 600.1 322.7 601.2 325.1 602.2 325.5 603 327.7 603.8 328.7 605 329.1 606.2 331.8 607.3 331.9 608.4 334.3 609.5 334.8 610.6 336 611.6 338.3 612.7 338.6 613.8 341.1 614.8 342.6 615.8 342.8 616.9 344.8 617.9 345.5 618.9 347.8 619.9 348.8 620.8 349 621.7 349.6 622.6 352 623.6 352.2 624.6 353.5 625.6 354.4 626.6 356.8 627.7 357.2 628.5 359.4 629.4 359.7 630.3 361.7 631.2 361.8 632.2 363.7 633.2 364.1 634.2 366.4 635.3 366.6 636.3 368.6 637.4 370.3 638.5 370.3 639.6 372.6 640.7 372.8 641.9 373.6 643 376.2 644.2 377.7 645.4 377.6 646.6 379.6 647.8 379.9 648.9 382.1 650 383.6 651.1 383.2 652 385.4 652.9 385.5 653.9 387.6 655.1 388.1 656.3 390.8 657.3 390.7 658.3 393.1 659.3 393.3 660.3 395.2 661.3 395 662.3 395.8 664.3 398.1 666.3 397.6 667.4 399.4 668.5 399.2 669.6 401 670.8 400.6 672.1 401.5 673.3 403.9 674.6 403.9 676 405.2 677.2 407.8 678.5 408.2 679.7 410.7 680.8 410.8 681.9 413.4 683 413.5 684 415.7 685 416.3 686.1 418.5 687.2 418.4 688.3 420.5 689.5 420.6 690.8 422.4 692 422.3 693.3 423.7 694.7 423.4 695.9 424.1 697.2 425.1 698.4 427.3 699.5 427.7 700.6 430.2 701.7 430.6 702.7 433 703.7 433.9 704.7 436.4 705.8 436.8 706.9 439 707.9 439.6 709.1 441.7 710.2 443.2 711.3 443.1 712.5 444.7 713.7 445.9 714.8 445.6 716 447.6 717.2 447.4 718.3 449.1 719.5 448.9 720.7 450.7 721.8 450.1 723 452.1 724.1 451.9 725.3 452.6 726.5 454.5 727.7 454.6 728.8 455.3 730 457.7 731.2 459.3 732.3 459.3 733.5 461.1 734.7 461.2 735.9 463.4 737 464.5 738.2 464.1 739.3 464.7 740.5 466.5 741.7 467.9 742.9 468.5 744.2 468.3 745.4 469.9 746.7 469.9 748 471.7 749.3 471.6 750.7 473.4 752 474.2 753.4 474.1 754.7 475.9 756 477.2 757.3 476.8 758.7 479 760 478.7 761.3 480.8 762.6 480.7 763.8 482.5 765 482.5 766.1 483 767.2 485.1 768.3 484.7 770.3 487 771.9 488 773.5 487.7 774.9 489.4 776.4 489.3 777.8 491.2 779.2 491.1 780.6 492.1 781.9 493.9 783.3 494 784.6 495.7 786 495.4 787.3 497.5 788.7 497.4 790 499.1 791.3 500 792.6 499.6 793.9 501.3 795.2 501.2 796.5 503.1 797.7 502.7 799 504.6 800.2 504 801.5 505.9 802.7 507 804.2 507.8 805.7 507.5 807.2 508.9 808.7 508.7 810.2 510.7 811.7 510.2 813.1 511.9 814.6 511.6 815.9 513.3 817.2 514.2 818.5 514 819.8 514.6 821.3 516.4 822.8 516.5 824.4 517.1 825.7 519.4 827 519 828.3 520.8 829.4 520.5 830.6 522.7 831.7 523.5 832.9 524.6 834 523.9 835.2 525.9 836.5 525.6 837.7 527.1 839 526.8 840.3 528.4 841.6 528 842.9 528.3 844.3 530.2 845.7 529.6 847.1 531.4 848.5 531.2 850 533 851.4 532.6 853 534.3 854.5 534.3 856 534.9 857.2 535.6 858.4 537.9 859.6 537.8 860.8 538.2 862 540.1 863.3 540.2 864.5 542.1 865.8 542.1 867.2 544.2 868.5 544.2 869.9 544.7 871.2 547 872.7 546.9 874.1 548.5 875.6 548.4 877.1 550.4 878.6 550.4 880.2 552.4 881.7 552 883.3 553.9 884.6 553.4 886 555.1 887.3 554.7 888.7 556.7 890 556.1 891.6 557.9 893.1 558 894.7 559.5 896.2 559.4 897.7 561.2 899.2 561 900.6 562.9 902.1 562.6 903.4 563.1 904.8 565.3 906.1 564.9 907.5 566.9 908.8 566.5 910 568.4 911.2 568.3 912.5 568.5 913.8 570.5 915 570.4 916.2 571.8 917.5 571.4 919.2 573.1 920.8 573.2 922.5 575 924.2 574.5 925.8 576.1 927.5 575.5 929.2 577 930.8 577.5 932.5 576.6 933.9 578.1 935.2 577.4 936.6 579.1 937.9 578.2 939.4 579.6 940.8 579 942.3 580.6 943.8 580 945.3 581.4 946.9 580.8 948.4 581.2 950 582.9 951.7 582.3 953.3 582.7 955 582.8 956.7 584.8 958.2 584.1 959.7 585.8 961.2 585.4 962.7 586.7 964.1 586.1 965.4 587.4 966.8 588.3 968.1 587.3 969.7 588.9 971.3 588.5 972.9 589.9 974.3 589.4 975.7 590 977.1 591.3 978.4 592.3 979.7 591.7 981 592.6 982.9 592.1 984.8 593.9 986.5 593 988.3 594.3 990 593.4 991.7 593.7 993.5 595.3 995.4 594.5 996.8 596 998.1 596.7 999.5 596 1001 597.5 1002.5 597 1003.9 598.8 1005.5 598.5 1007.2 600.3 1008.8 600.1 1010.4 601.6 1012 601.4 1013.5 603.2 1015.1 602.5 1016.7 603.1 1018.3 605.1 1019.9 604.4 1021.4 606 1023 605.6 1024.6 607.2 1026.1 607.8 1027.7 606.9 1029.2 608.1 1030.8 608.8 1032.4 609.6 1033.9 609 1035.5 610.4 1037 609.5 1038.6 611.2 1040.1 610.8 1041.7 612.4 1043.2 612.1 1044.8 613.3 1046.3 612.7 1047.9 614.3 1049.5 615.2 1051.1 616.1 1052.8 615.1 1054.5 616.6 1056.1 616.2 1057.9 616.6 1059.6 618.5 1061.3 618.2 1062.7 619.6 1064 618.9 1065.3 620.4 1066.7 619.9 1068.3 621.3 1070 622.3 1071.7 621.5 1073.2 622.9 1074.8 624 1076.4 623.5 1077.8 625 1079.3 624.4 1080.7 626.4 1082 625.9 1083.4 627.4 1084.7 627.3 1086.1 629 1087.6 628.5 1089 630.1 1090.6 629.8 1092.1 631.4 1093.7 630.8 1095.4 632.6 1097 632.1 1098.7 632.5 1100.5 632.8 1102.2 634.7 1104 634.1 1105.7 635.8 1107.3 635.5 1109 637.3 1110.6 636.8 1112.1 638.7 1113.7 638.1 1115.1 639.8 1116.6 639.6 1118 641.5 1119.3 641.3 1120.7 641.7 1122 642.2 1123.3 642.8 1124.7 644.8 1126 644.7 1127.3 646.2 1128.7 646 1130 647.5 1131.3 647.3 1132.7 648.7 1134 648.3 1135.3 649.9 1136.7 649 1138 649.3 1139.3 650.8 1140.7 650.4 1142 651.8 1143.3 651.2 1144.7 653 1146 652.3 1147.3 653.7 1148.7 653.7 1150 654.9 1151.3 654.8 1152.7 656 1154 656.9 1155.5 656 1157 657.8 1158.5 658.5 1160.2 657.6 1161.8 659.2 1163.5 658.4 1164.9 658.4 1166.2 658.6 1167.6 660.1 1169 660.9 1170.5 660.2 1172 661.4 1173.5 660.4 1175 661.9 1176.4 661 1177.8 661.3 1179.3 661.4 1180.7 662.7 1182.4 662.5 1184.2 664 1186 664.5 1187.7 663.6 1189.3 665.3 1191 664.6 1192.6 666 1194.1 666.8 1195.7 667.4 1197.3 668.1 1198.9 667.7 1200.5 667.9 1202.2 669.6 1203.9 668.9 1205.5 670.6 1207.2 670.2 1209 671.9 1210.7 671.2 1212.5 671.6 1214.2 672 1216 674.1 1217.7 673.4 1219.5 674 1221.2 674.4 1222.8 675.8 1224.5 675.4 1226.2 677.1 1227.8 676.4 1229.4 677.9 1231 678.5 1232.6 677.8 1234.1 679.5 1235.7 678.8 1237.2 680.2 1238.7 679.6 1240.2 681.3 1241.6 680.8 1243.1 682.3 1244.5 682.2 1245.9 683.8 1247.3 684.5 1248.7 683.8 1250 685.6 1251.4 685.2 1252.7 686.6 1254.1 686.4 1255.6 688.2 1257 687.5 1258.6 689.4 1260.1 688.7 1261.7 690.1 1263.4 689.9 1265 691.2 1266.7 690.6 1268.5 692.3 1270.2 691.9 1272 693 1273.3 692.5 1274.7 693.6 1276 693.1 1277.3 694.5 1278.7 693.8 1280 694.7" stroke="#636363" stroke-width="6.8" fill="none" stroke-linejoin="round" stroke-linecap="round"/>
</g>
<text x="226.8" y="68" font-size="34.9" text-anchor="end">0.00E+00</text>
<text x="226.8" y="158.8" font-size="34.9" text-anchor="end">-2.00E-03</text>
<text x="226.8" y="249.5" font-size="34.9" text-anchor="end">-4.00E-03</text>
<text x="226.8" y="340.2" font-size="34.9" text-anchor="end">-6.00E-03</text>
<text x="226.8" y="431" font-size="34.9" text-anchor="end">-8.00E-03</text>
<text x="226.8" y="521.8" font-size="34.9" text-anchor="end">-1.00E-02</text>
<text x="226.8" y="612.5" font-size="34.9" text-anchor="end">-1.20E-02</text>
<text x="226.8" y="703.2" font-size="34.9" text-anchor="end">-1.40E-02</text>
<text x="226.8" y="794" font-size="34.9" text-anchor="end">-1.60E-02</text>
<text x="257.7" y="108.6" font-size="34.9" text-anchor="middle">0</text>
<text x="371.3" y="108.6" font-size="34.9" text-anchor="middle">5</text>
<text x="484.8" y="108.6" font-size="34.9" text-anchor="middle">10</text>
<text x="598.4" y="108.6" font-size="34.9" text-anchor="middle">15</text>
<text x="711.9" y="108.6" font-size="34.9" text-anchor="middle">20</text>
<text x="825.5" y="108.6" font-size="34.9" text-anchor="middle">25</text>
<text x="939.1" y="108.6" font-size="34.9" text-anchor="middle">30</text>
<text x="1052.6" y="108.6" font-size="34.9" text-anchor="middle">35</text>
<text x="1166.2" y="108.6" font-size="34.9" text-anchor="middle">40</text>
<text x="1279.7" y="108.6" font-size="34.9" text-anchor="middle">45</text>
<text x="1393.3" y="108.6" font-size="34.9" text-anchor="middle">50</text>
<path d="M1301.5 164.3H1385" stroke="#4472c4" stroke-width="6.6" stroke-linecap="round"/>
<text x="1394" y="175.5" font-size="34.9" text-anchor="start">5Sec</text>
<path d="M1301.5 234.4H1385" stroke="#ed7d31" stroke-width="6.6" stroke-linecap="round"/>
<text x="1394" y="245.6" font-size="34.9" text-anchor="start">10Sec</text>
<path d="M1301.5 304.6H1385" stroke="#a5a5a5" stroke-width="6.6" stroke-linecap="round"/>
<text x="1394" y="315.8" font-size="34.9" text-anchor="start">15Sec</text>
<path d="M1301.5 374.7H1385" stroke="#ffc000" stroke-width="6.6" stroke-linecap="round"/>
<text x="1394" y="385.9" font-size="34.9" text-anchor="start">20Sec</text>
<path d="M1301.5 444.8H1385" stroke="#70ad47" stroke-width="6.6" stroke-linecap="round"/>
<text x="1394" y="456" font-size="34.9" text-anchor="start">25Sec</text>
<path d="M1301.5 515H1385" stroke="#5b9bd5" stroke-width="6.6" stroke-linecap="round"/>
<text x="1394" y="526.2" font-size="34.9" text-anchor="start">30Sec</text>
<path d="M1301.5 585.1H1385" stroke="#264478" stroke-width="6.6" stroke-linecap="round"/>
<text x="1394" y="596.3" font-size="34.9" text-anchor="start">35Sec</text>
<path d="M1301.5 655.2H1385" stroke="#9e480e" stroke-width="6.6" stroke-linecap="round"/>
<text x="1394" y="666.4" font-size="34.9" text-anchor="start">40Sec</text>
<path d="M1301.5 725.3H1385" stroke="#636363" stroke-width="6.6" stroke-linecap="round"/>
<text x="1394" y="736.5" font-size="34.9" text-anchor="start">45Sec</text>
<text x="734.6" y="29.3" font-size="44.2" text-anchor="middle" font-weight="bold">25 μm</text>
<text x="815.8" y="848" font-size="44.2" text-anchor="middle" font-weight="bold">Time (Sec)</text>
<text transform="translate(33.4 451.7) rotate(-90)" font-size="43.5" text-anchor="middle" font-weight="bold">Current Density (A)</text>
<rect x="1359" y="781.2" width="139.6" height="94.9" fill="#fff" stroke="#000" stroke-width="4"/>
<text x="1428.5" y="846" font-size="53.8" text-anchor="middle">(A)</text>
</g>
<g id="chartB">
<path d="M253.4 1086H1385.8M253.4 1158.9H1385.8M253.4 1231.7H1385.8M253.4 1304.5H1385.8M253.4 1377.3H1385.8M253.4 1450.2H1385.8M253.4 1523H1385.8M253.4 1595.8H1385.8M253.4 1668.7H1385.8M253.4 1741.5H1385.8" stroke="#d9d9d9" stroke-width="3" fill="none"/>
<path d="M253.4 1027.8H1384.3M253.4 1042.3H1384.3M253.4 1056.9H1384.3M253.4 1071.5H1384.3M253.4 1100.6H1384.3M253.4 1115.2H1384.3M253.4 1129.7H1384.3M253.4 1144.3H1384.3M253.4 1173.4H1384.3M253.4 1188H1384.3M253.4 1202.6H1384.3M253.4 1217.1H1384.3M253.4 1246.3H1384.3M253.4 1260.8H1384.3M253.4 1275.4H1384.3M253.4 1290H1384.3M253.4 1319.1H1384.3M253.4 1333.7H1384.3M253.4 1348.2H1384.3M253.4 1362.8H1384.3M253.4 1391.9H1384.3M253.4 1406.5H1384.3M253.4 1421H1384.3M253.4 1435.6H1384.3M253.4 1464.7H1384.3M253.4 1479.3H1384.3M253.4 1493.9H1384.3M253.4 1508.4H1384.3M253.4 1537.6H1384.3M253.4 1552.1H1384.3M253.4 1566.7H1384.3M253.4 1581.3H1384.3M253.4 1610.4H1384.3M253.4 1625H1384.3M253.4 1639.5H1384.3M253.4 1654.1H1384.3M253.4 1683.2H1384.3M253.4 1697.8H1384.3M253.4 1712.4H1384.3M253.4 1726.9H1384.3" stroke="#f2f2f2" stroke-width="3" fill="none"/>
<path d="M340.4 1013.2V1743M427.4 1013.2V1743M514.4 1013.2V1743M601.4 1013.2V1743M688.4 1013.2V1743M775.4 1013.2V1743M862.3 1013.2V1743M949.3 1013.2V1743M1036.3 1013.2V1743M1123.3 1013.2V1743M1210.3 1013.2V1743M1297.3 1013.2V1743M1384.3 1013.2V1743" stroke="#d9d9d9" stroke-width="3" fill="none"/>
<path d="M270.8 1013.2V1741.8M288.2 1013.2V1741.8M305.6 1013.2V1741.8M323 1013.2V1741.8M357.8 1013.2V1741.8M375.2 1013.2V1741.8M392.6 1013.2V1741.8M410 1013.2V1741.8M444.8 1013.2V1741.8M462.2 1013.2V1741.8M479.6 1013.2V1741.8M497 1013.2V1741.8M531.8 1013.2V1741.8M549.2 1013.2V1741.8M566.6 1013.2V1741.8M584 1013.2V1741.8M618.8 1013.2V1741.8M636.2 1013.2V1741.8M653.6 1013.2V1741.8M671 1013.2V1741.8M705.8 1013.2V1741.8M723.2 1013.2V1741.8M740.6 1013.2V1741.8M758 1013.2V1741.8M792.8 1013.2V1741.8M810.2 1013.2V1741.8M827.5 1013.2V1741.8M844.9 1013.2V1741.8M879.7 1013.2V1741.8M897.1 1013.2V1741.8M914.5 1013.2V1741.8M931.9 1013.2V1741.8M966.7 1013.2V1741.8M984.1 1013.2V1741.8M1001.5 1013.2V1741.8M1018.9 1013.2V1741.8M1053.7 1013.2V1741.8M1071.1 1013.2V1741.8M1088.5 1013.2V1741.8M1105.9 1013.2V1741.8M1140.7 1013.2V1741.8M1158.1 1013.2V1741.8M1175.5 1013.2V1741.8M1192.9 1013.2V1741.8M1227.7 1013.2V1741.8M1245.1 1013.2V1741.8M1262.5 1013.2V1741.8M1279.9 1013.2V1741.8M1314.7 1013.2V1741.8M1332.1 1013.2V1741.8M1349.5 1013.2V1741.8M1366.9 1013.2V1741.8" stroke="#f2f2f2" stroke-width="3" fill="none"/>
<path d="M242.9 1013.2H1384.1M253.4 1011.7V1743M242.9 1086H253.4M242.9 1158.9H253.4M242.9 1231.7H253.4M242.9 1304.5H253.4M242.9 1377.3H253.4M242.9 1450.2H253.4M242.9 1523H253.4M242.9 1595.8H253.4M242.9 1668.7H253.4M242.9 1741.5H253.4M340.4 1013.2V1022.7M427.4 1013.2V1022.7M514.4 1013.2V1022.7M601.4 1013.2V1022.7M688.4 1013.2V1022.7M775.4 1013.2V1022.7M862.3 1013.2V1022.7M949.3 1013.2V1022.7M1036.3 1013.2V1022.7M1123.3 1013.2V1022.7M1210.3 1013.2V1022.7M1297.3 1013.2V1022.7M1384.3 1013.2V1022.7" stroke="#bfbfbf" stroke-width="3" fill="none"/>
<clipPath id="clipB"><rect x="252.7" y="1012.5" width="1300" height="950"/></clipPath>
<g clip-path="url(#clipB)">
<path d="M253 1018.5 254.5 1019.7 256 1020.2 257.5 1019.5 259 1020.7 260.5 1020.1 262 1021.8 263.5 1020.6 265 1022.1 266.5 1021.2 268 1023.1 269.5 1022.2 271 1023.7 272.5 1024.2 274 1024.4 275.5 1023.1 277 1025.3 278.5 1023.9 280 1026 281.4 1024.5 282.9 1027.1 284.3 1025.2 285.8 1027.9 287.2 1026.2 288.7 1026.4 290.1 1029.3 291.6 1030 293 1028.1 294.4 1030.5 295.9 1028.8 297.3 1031.3 298.8 1029.9 300.2 1029.7 301.7 1032.5 303.1 1031.4 304.6 1034.2 306 1032.3 307.5 1032.3 308.9 1035 310.4 1033.7 311.8 1033.6 313.3 1035.9 314.7 1034.1 316.2 1034.5 317.6 1037.3 319.1 1036.4 320.5 1038.7 322 1037.1 323.2 1040.2 324.4 1039.2 325.6 1041.8 326.9 1040.6 328.1 1043.6 329.3 1045.6 330.1 1044.1 330.8 1048.1 331.6 1047.3 332.4 1050.6 333.2 1051.9 333.9 1050.9 334.7 1054.6 335.3 1053.3 335.8 1056.7 336.4 1056.1 337 1060.2 337.6 1059 338.1 1062.8 338.7 1062 339.8 1065.1 340.8 1065.3" stroke="#4472c4" stroke-width="7.6" fill="none" stroke-linejoin="round" stroke-linecap="round"/>
<path d="M253 1015.5 254.5 1016.6 255.9 1015.7 257.4 1017.2 258.9 1016 260.3 1017.3 261.8 1016.5 263.3 1017.8 264.8 1017 266.2 1018.2 267.7 1017.4 269.2 1018.9 270.6 1017.5 272.1 1019.2 273.6 1017.9 275 1019.8 276.5 1018.4 278 1020.1 279.4 1018.3 280.9 1018.7 282.4 1020.7 283.8 1018.8 285.3 1020.9 286.8 1021.8 288.2 1019.9 289.7 1021.5 291.2 1020.1 292.7 1022.1 294.1 1020.3 295.6 1022.5 297.1 1021.1 298.5 1023.2 300 1020.8 301.5 1021.4 303 1023.8 304.4 1022.3 305.9 1024.6 307.4 1025.2 308.9 1023.2 310.4 1022.7 311.9 1026.3 313.3 1024.4 314.8 1024.3 316.3 1026.7 317.8 1028.2 319.3 1028.2 320.7 1025.9 322.2 1028.8 323.7 1027.1 325.2 1029.2 326.7 1030.3 328.1 1027.8 329.6 1031 331.1 1028.3 332.6 1031.3 334.1 1029.5 335.6 1031.9 337 1030.3 338.5 1033 340 1031.3 341.4 1031.1 342.7 1034.2 344.1 1032.3 345.5 1035.7 346.8 1033.3 348.2 1036.2 349.5 1035 350.9 1037.7 352.3 1036.2 353.6 1038.6 355 1037.1 356.4 1039.4 357.7 1037.6 359.1 1040.5 360.5 1039.3 361.8 1041.4 363.2 1040.3 364.5 1040.6 365.9 1043.7 367.3 1041.9 368.6 1044.6 370 1043.1 371.3 1045.5 372.5 1044.4 373.8 1047.2 375 1045.8 376.3 1049.3 377.5 1047.3 378.8 1050.1 380 1048.7 381.3 1051.8 382.8 1053 384.3 1052.7 385.8 1050.7 387.3 1053.3 388.7 1051.9 390.2 1052.1 391.7 1052.1 393.2 1055.5 394.7 1056.4 395.7 1055.2 396.7 1058.5 397.7 1057.4 398.7 1060.7 399.7 1059.2 400.7 1063.2 401.7 1061.3 402.7 1064.7 403.2 1064.3 403.8 1067.9 404.3 1066.5 404.8 1070.5 405.4 1069.2 405.9 1072.6 406.4 1071.8 406.9 1073.1 407.5 1077.2 408 1079 408.7 1078 409.3 1080.9 410 1079.9 410.6 1083.8 411.3 1085.7 412 1084.4 412.6 1088.3 413.3 1087.2 414 1087.5 414.6 1091.5 415.3 1091.3 416 1094.1 416.6 1096.4 417.3 1094.9 418 1096.2 418.6 1100.1 419.3 1098.6 420 1101.9 420.6 1101 421.3 1104.9 422.2 1103.9 423.1 1107.1 423.9 1106.3 424.8 1109.6 425.4 1105.8 426.1 1106 426.7 1102.5 427.4 1103.5 428 1100.8" stroke="#ed7d31" stroke-width="7.6" fill="none" stroke-linejoin="round" stroke-linecap="round"/>
<path d="M253 1015.4 254.5 1016.6 255.9 1015.7 257.4 1017.4 258.9 1016.4 260.3 1017.8 261.8 1016.7 263.3 1018.5 264.8 1017.6 266.2 1019.1 267.7 1018.1 269.2 1019.3 270.6 1018.1 272.1 1019.7 273.6 1020.6 275 1019.4 276.5 1020.6 278 1021 279.4 1019.9 280.9 1021.4 282.4 1021.9 283.8 1020.6 285.3 1022.7 286.8 1022.7 288.2 1021.5 289.7 1023.1 291.2 1021.5 292.7 1023.4 294.1 1022.1 295.6 1024.7 297.1 1023 298.5 1022.1 300 1025.4 301.4 1023 302.9 1026.2 304.3 1023.8 305.7 1026.9 307.1 1027.2 308.6 1025.4 310 1027.7 311.4 1026.4 312.9 1029 314.3 1027.6 315.7 1030 317.1 1028.5 318.6 1030.9 320 1031.5 321.4 1029.7 322.9 1032.3 324.3 1030.2 325.7 1032.9 327.1 1031 328.6 1033.4 330 1031.9 331.4 1034.1 332.9 1032.6 334.3 1035.4 335.7 1033.7 337.1 1033.5 338.6 1037 340 1034.9 341.3 1038.1 342.7 1036.2 344 1038.7 345.3 1037.3 346.7 1040.5 348 1038.8 349.3 1041.3 350.7 1042.6 352 1040.6 353.3 1040.4 354.6 1044.3 356 1044.9 357.3 1043.2 358.6 1046.1 360 1044.1 361.3 1047.7 362.6 1045.6 364 1048.9 365.3 1046.8 366.8 1049.3 368.3 1047.3 369.8 1050.6 371.3 1048.4 372.7 1051 374.2 1051.7 375.7 1052.5 377.2 1050.7 378.7 1053.1 380 1052.1 381.4 1054.9 382.7 1053.2 384 1056.2 385.3 1055.2 386.6 1057.9 388 1056.5 389.3 1060 390.4 1058.2 391.4 1061.7 392.5 1063.4 393.6 1064.7 394.6 1065.6 395.7 1063.8 396.8 1064.6 397.9 1068.4 398.9 1067.4 400 1070.1 400.8 1069.2 401.7 1073 402.5 1074.8 403.4 1073.9 404.2 1077 405 1075.7 405.9 1077.4 406.7 1078.4 407.2 1081.9 407.7 1081.4 408.2 1084.6 408.7 1086.3 409.2 1088.1 409.7 1086.6 410.2 1090.3 410.7 1089.8 411.4 1092.7 412 1091.8 412.7 1095.3 413.4 1094.9 414 1098.5 414.7 1099.8 415.3 1098.7 416 1102.1 416.5 1101.5 417 1102.3 417.4 1104 417.9 1108.3 418.4 1107.5 418.9 1111 419.4 1109.9 419.9 1114 420.3 1113.7 420.8 1117.1 421.3 1115.7 421.8 1119.9 422.3 1121.3 422.8 1120.9 423.3 1121.5 423.8 1126 424.2 1125.4 424.7 1128.2 425.2 1130 425.7 1129 426.2 1133.3 426.7 1132.2 427.5 1133.6 428.3 1137 429.1 1136.4 429.9 1139.5 430.7 1138.9 431.5 1142 432.3 1141 433.1 1144.8 433.9 1144.5 434.7 1147.8 435.5 1147.1 436.3 1150.6 437.1 1149.5 437.9 1150.9 438.7 1154.1 439.5 1153.9 440.3 1157.3 441.1 1156.2 441.9 1159.5 442.7 1159.2 443.9 1159.9 445.1 1160.4 446.2 1161.2 447.4 1161.8 448.6 1165 449.8 1164.6 450.9 1167.3 452.1 1166 453.3 1169.1 454.3 1168.5 455.2 1171.5 456.2 1173.5 457.2 1172 458.2 1175 459.1 1177.1 460.1 1175.1 461.1 1175.8 462.1 1179.4 463 1179.2 464 1182.1 465.1 1181.6 466.1 1184.4 467.2 1183 468.2 1186.8 469.3 1185.7 470.4 1186.5 471.5 1183.8 472.5 1184.4 473.6 1181.1 474.7 1182.5 475.6 1181.2 476.5 1185 477.4 1183.9 478.2 1188 479.1 1186.4 480 1187.8 481.3 1191.2 482.7 1189.5 484 1193.3 485.3 1192.2 486.7 1192.3 488 1195.9 488.9 1194.8 489.8 1198.3 490.7 1199.7 491.6 1198.2 492.4 1202.2 493.3 1200.3 494.2 1201.6 495.1 1205.4 496 1204.4 496.9 1207.4 497.8 1206.1 498.7 1210.1 499.6 1211.2 500.4 1209.7 501.3 1213.8 502.2 1212.1 503.1 1215.7 504 1217.3 505 1215.7 505.9 1219.4 506.9 1221 507.9 1219.5 508.9 1222.7 509.8 1221.2 510.8 1221.7 511.8 1225.9 512.8 1227.3 513.7 1226 514.7 1228" stroke="#a5a5a5" stroke-width="7.6" fill="none" stroke-linejoin="round" stroke-linecap="round"/>
<path d="M253 1013.3 254.5 1014.4 256 1013.5 257.5 1013.3 259 1014.9 260.4 1013.9 261.9 1013.7 263.4 1015.2 264.9 1013.9 266.4 1014.9 267.9 1013.9 269.4 1015.3 270.9 1014 272.4 1015.5 273.8 1013.9 275.3 1015.7 276.8 1013.9 278.3 1013.9 279.8 1015.5 281.3 1013.7 282.8 1015.9 284.3 1013.9 285.8 1016 287.2 1014.4 288.7 1015.8 290.2 1014.2 291.7 1015.8 293.2 1014 294.7 1016.2 296.2 1017 297.7 1017.2 299.2 1017.3 300.6 1014.3 302.1 1016.4 303.6 1016.8 305.1 1016.9 306.6 1014.2 308.1 1016.2 309.6 1017.4 311.1 1017.2 312.6 1015 314 1017.2 315.5 1015 317 1017.5 318.5 1017.9 320 1015.4 321.5 1017.5 322.9 1018.2 324.4 1015.3 325.8 1018 327.3 1016.2 328.8 1018.2 330.2 1016.1 331.7 1019.3 333.1 1017.3 334.6 1020 336 1017.4 337.5 1019.9 339 1017.9 340.4 1017.9 341.9 1020.6 343.3 1021 344.8 1019 346.2 1021.4 347.7 1020 349.2 1022.1 350.6 1019.7 352.1 1023 353.5 1020.2 355 1023 356.4 1021.1 357.8 1023.7 359.2 1022.2 360.5 1024.8 361.9 1022.7 363.3 1025.9 364.7 1024.2 366.1 1023.9 367.5 1024.9 368.8 1024.8 370.2 1028 371.6 1028.8 373 1026.7 374.4 1029.5 375.8 1027.5 377.3 1030.3 378.7 1030.9 380.1 1029.1 381.5 1031.7 382.9 1030.1 384.4 1032.5 385.8 1030.6 387.2 1033.2 388.6 1033.7 390.1 1034.1 391.5 1032.4 392.9 1032.7 394.3 1035.7 395.7 1034 397.2 1033.7 398.6 1036.3 400 1035.3 401.4 1037.8 402.9 1039 404.3 1036.3 405.7 1037.2 407.1 1039.7 408.6 1040.6 410 1038.7 411.4 1041.5 412.9 1039.7 414.3 1042.3 415.7 1040.6 417.1 1041.7 418.6 1045 420 1045.1 421.4 1043.6 422.7 1043.6 424.1 1047.6 425.5 1048.3 426.8 1046.9 428.2 1049.1 429.5 1047.8 430.9 1048.7 432.3 1051.8 433.6 1050.5 435 1053.4 436.4 1051.6 437.9 1053.8 439.3 1052.3 440.8 1055.5 442.2 1053.9 443.7 1053.6 445.1 1057.5 446.6 1055.2 448 1057.9 449.5 1055.6 451.1 1058.5 452.6 1056 454.1 1058.2 455.6 1055.8 457.2 1058.4 458.7 1056 460 1059.5 461.4 1057.9 462.7 1060 464 1058.5 465.3 1059.5 466.6 1060.3 468 1063.1 469.3 1061.7 470.3 1062 471.3 1066 472.3 1067.2 473.3 1068.5 474.3 1066.7 475.3 1067.7 476.3 1071.1 477.3 1069.8 477.8 1073.5 478.3 1072.3 478.8 1075.9 479.3 1075.2 479.8 1079.5 480.3 1078.8 480.8 1082.4 481.3 1084.5 482.1 1083.3 483 1086.2 483.8 1088.1 484.6 1086.8 485.5 1090.4 486.3 1089.5 487.2 1090 488 1094.1 488.9 1093 489.8 1093.9 490.7 1095.3 491.6 1099.1 492.5 1098.3 493.5 1101.3 494.4 1100.4 495.3 1103.5 496.2 1102.5 497.1 1105.6 498 1105.3 499.1 1105.4 500.2 1109.3 501.3 1108.1 502.4 1111.7 503.5 1110.1 504.5 1111.4 505.6 1114.4 506.7 1113.3 507.8 1116.5 508.9 1115.7 510 1116.2 510.6 1120.2 511.3 1119.3 511.9 1123.2 512.5 1122.4 513.2 1126.3 513.8 1125 514.4 1128.2 515.1 1127.8 515.7 1128.4 516.4 1130 517 1131 517.6 1135.7 518.3 1135.1 518.9 1138.5 519.5 1136.9 520.2 1138.7 520.8 1141.9 521.4 1144.2 522.1 1143 522.7 1146.3 524 1144.8 525.4 1148.5 526.7 1149 528 1147.7 529.3 1148.2 530.6 1151.4 532 1149.8 533.3 1153.6 534.9 1150.8 536.5 1150.5 538.1 1152.8 539.7 1151.2 541.3 1153.2 542.2 1151.9 543.1 1153.6 544 1154.3 544.9 1155.6 545.8 1160.1 546.7 1159.1 547.7 1161.9 548.7 1163 549.7 1162.2 550.7 1165.1 551.7 1164.3 552.7 1167.3 553.7 1168.5 554.7 1169.3 556 1167.8 557.4 1171 558.7 1171.6 560 1169.1 561.3 1169.5 562.6 1173.3 564 1171.6 565.3 1174.4 566.5 1172.6 567.7 1173.2 568.9 1174.9 570.1 1178.4 571.2 1176.2 572.4 1179.2 573.6 1178.6 574.8 1178.6 576 1182.8 577.3 1180.6 578.7 1183.7 580 1181.7 581.4 1184.6 582.7 1183.5 584 1186.4 585.4 1187.5 586.7 1188.6 588 1185.9 589.4 1188.8 590.7 1186.8 592 1189.9 593.3 1190.4 594.6 1188.7 596 1188.3 597.3 1191.9 598.6 1192.8 600 1190.7 601.4 1193.9 602.7 1193.3" stroke="#ffc000" stroke-width="7.6" fill="none" stroke-linejoin="round" stroke-linecap="round"/>
<path d="M253 1020.9 254.4 1022.3 255.8 1022.1 257.1 1023.7 258.5 1024.5 259.9 1023.9 261.3 1024.3 262.9 1024.9 264.4 1026.3 266 1025.5 267.6 1026.9 269.1 1025.6 270.7 1026 272.1 1027.5 273.6 1025.6 275 1027.2 276.4 1025.4 277.9 1027.1 279.3 1027.1 280.7 1025.1 282.1 1024.8 283.6 1025.2 285 1026.9 286.5 1027.7 287.9 1025.4 289.4 1027.5 290.9 1025.7 292.4 1027.8 293.8 1026 295.3 1028.6 296.8 1026.5 298.2 1029.2 299.7 1027.2 301.2 1029.7 302.6 1030.1 304.1 1031 305.6 1028.4 307.1 1030.6 308.5 1031.5 310 1029.1 311.5 1031.1 312.9 1029.4 314.4 1031.9 315.9 1032.2 317.3 1029.8 318.8 1033.1 320.3 1030.5 321.7 1030.6 323.2 1034.1 324.7 1031.5 326.1 1034.4 327.6 1032.1 329.1 1031.9 330.6 1032.8 332 1035.7 333.5 1033.2 335 1036.5 336.4 1033.8 337.9 1036.9 339.4 1034.6 340.8 1037.5 342.3 1037.8 343.8 1035.6 345.2 1038.1 346.7 1036.5 348.2 1039.1 349.7 1036.6 351.1 1039.3 352.6 1037.1 354.1 1039.7 355.6 1038 357 1040.6 358.5 1039 360 1041.1 361.5 1041.8 363 1039.8 364.4 1041.7 365.9 1042.7 367.4 1040.1 368.9 1042.7 370.3 1043.9 371.8 1041.7 373.3 1043.8 374.8 1045 376.2 1045.2 377.7 1045.6 379.1 1042.7 380.6 1045.6 382 1043.6 383.5 1046.4 384.9 1047 386.4 1044.5 387.8 1047.1 389.3 1045.6 390.7 1048.4 392.1 1046.6 393.4 1046.6 394.8 1047.5 396.2 1049.9 397.6 1048.3 399 1051.3 400.3 1049.8 401.7 1049.6 403.1 1053 404.5 1051.4 405.9 1054.1 407.2 1052.2 408.6 1054.8 410 1055.5 411.3 1053.5 412.7 1056.2 414 1055.1 415.3 1055.4 416.7 1058.2 418 1056.9 419.3 1060.3 420.7 1058.3 422 1061 423.3 1059.3 424.7 1062.8 426 1061.1 427.3 1063.5 428.7 1061.7 430 1065.2 431.1 1066.8 432.2 1064.9 433.3 1065.4 434.4 1069.6 435.5 1068.8 436.5 1072.1 437.6 1070.1 438.7 1070.9 439.8 1074.5 440.9 1075.8 442 1074.5 443.1 1078.6 444.2 1077.3 445.3 1080.7 446.4 1082.2 447.4 1080.4 448.5 1083.7 449.6 1082.8 450.7 1086.3 451.9 1085 453.1 1088.5 454.2 1087.3 455.4 1090.3 456.6 1088.6 457.8 1092 458.9 1090.4 460.1 1094 461.3 1092.5 461.8 1092.9 462.4 1097 462.9 1096.4 463.5 1099.4 464 1099 464.5 1099.7 465.1 1103.3 465.6 1105.3 466.2 1104.7 466.7 1108.1 466.9 1107.2 467.2 1111 467.4 1109.6 467.6 1113.3 467.9 1115.7 468.1 1117 468.4 1116 468.6 1119.8 468.8 1120.8 469.1 1119.9 469.3 1121.2 470.2 1124.7 471.1 1124.2 472 1125 472.9 1128.3 473.7 1127.3 474.6 1130.7 475.5 1129.8 476.4 1130.4 477.3 1133.9 478.6 1133.2 480 1136.4 481.4 1135 482.7 1135.5 484 1137.2 485.4 1133.7 486.7 1135.7 488 1132.6 489.3 1134.1 490.7 1131.6 492 1133.3 493.3 1133.2 494.7 1129.7 496 1131.9 497.5 1129.7 499.1 1131.8 500.6 1130.1 502.1 1132.2 503.6 1130.2 505.2 1133.1 506.7 1130.8 508.2 1133.4 509.7 1131.5 511.1 1134.1 512.6 1132.3 514.1 1135.3 515.6 1135.8 517 1134.1 518.5 1136.6 520 1137.2 521.5 1137.5 523.1 1135.9 524.6 1137.9 526.1 1136.8 527.6 1136 529.2 1139.7 530.7 1137.2 532 1140.3 533.4 1139.3 534.7 1141.7 536 1140.4 537.4 1143 538.7 1141.2 539.8 1145.1 541 1143.5 542.1 1146.2 543.2 1145.4 544.4 1148.2 545.5 1147.1 546.6 1150.2 547.7 1148.7 548.9 1152.1 550 1153.3 551.1 1152 552.2 1155 553.3 1153.9 554.4 1154.8 555.5 1155.5 556.5 1159.1 557.6 1160.1 558.7 1159 559.8 1162.5 560.9 1163.1 562 1161.6 563.3 1165.1 564.6 1163.1 565.9 1166.1 567.2 1164.6 568.5 1168 569.8 1165.9 571.1 1168.5 572.4 1167.3 573.7 1167.4 575 1168.8 576.5 1171.9 578 1172.6 579.5 1170.6 581 1173.1 582.5 1171.1 584 1174.7 585.5 1175.3 586.9 1175.2 588.4 1172.8 589.8 1172.8 591.3 1176.1 592.7 1174 594.2 1173.9 595.6 1177.3 597.1 1178.4 598.5 1178.2 600 1175.8 601.5 1178.3 603.1 1175.7 604.6 1175.5 606.1 1178.2 607.6 1176.1 609.2 1178.1 610.7 1176.1 612 1179.4 613.4 1177 614.7 1179.9 616 1178.7 617.3 1180.7 618.6 1179.3 620 1181.5 621.3 1182.8 622.8 1180.5 624.3 1183.2 625.8 1181.4 627.3 1184.2 628.7 1182.7 630.2 1184.9 631.7 1183.4 633.2 1186.1 634.7 1184.2 636 1186.8 637.4 1185.3 638.7 1188.5 640 1187.3 641.3 1189.4 642.6 1187.8 644 1190.6 645.3 1189.3 645.9 1193.5 646.5 1192.5 647.1 1193.4 647.8 1197.7 648.4 1197.1 649 1200.7 649.6 1199.2 650.2 1202.9 650.8 1202.6 651.5 1203.7 652.1 1205.1 652.7 1208.7 653.3 1208.5 654.5 1211.3 655.7 1210.4 656.9 1213.4 658.1 1211.4 659.2 1214.4 660.4 1213.2 661.6 1214 662.8 1217.4 664 1216.2 665.2 1216.9 666.4 1220.5 667.6 1218.9 668.8 1222.4 669.9 1220.6 671.1 1223.4 672.3 1222.7 673.5 1226 674.7 1223.8 675.6 1227.1 676.5 1226.8 677.4 1230.2 678.2 1228.7 679.1 1231.7 680 1230.7 681.3 1230.2 682.6 1232.6 684 1230.2 685.3 1232.3 686.9 1229.9 688.5 1231" stroke="#5b9bd5" stroke-width="7.6" fill="none" stroke-linejoin="round" stroke-linecap="round"/>
<path d="M253.3 1012.6 254.8 1013.8 256.3 1013.9 257.8 1014 259.3 1012.6 260.8 1014.1 262.3 1012.9 263.8 1012.6 265.3 1012.8 266.9 1014.1 268.4 1012.8 269.9 1014.1 271.4 1014.2 272.9 1012.6 274.4 1014.4 275.9 1012.7 277.4 1014.3 278.9 1014.7 280.4 1012.9 281.9 1012.5 283.4 1014 284.9 1012.3 286.4 1012.3 287.9 1014.5 289.4 1012.8 291 1014.2 292.5 1012.3 294 1014.3 295.5 1012.1 297 1014.4 298.5 1012 300 1014.2 301.5 1012.4 303 1014.3 304.5 1012 306 1014.3 307.5 1012.8 309 1012 310.5 1012.7 312 1015.3 313.5 1013.1 315 1015.1 316.5 1013 318 1015.6 319.5 1016.1 321 1013.3 322.5 1015.7 324 1013 325.5 1015.7 327 1013.6 328.5 1015.6 330 1016.3 331.5 1013.7 333 1016.5 334.4 1013.9 335.9 1017 337.4 1014.5 338.9 1016.9 340.4 1015.2 341.9 1014.8 343.4 1017.8 344.8 1015.5 346.3 1017.5 347.8 1015.3 349.3 1018.1 350.8 1016.4 352.2 1018.2 353.7 1016.7 355.2 1018.9 356.7 1016.5 358.2 1019.7 359.7 1017.3 361.1 1017.7 362.6 1017.1 364.1 1019.8 365.6 1018.4 367 1020.7 368.5 1018.8 370 1021 371.5 1019.5 373 1021.5 374.4 1019.5 375.9 1022.5 377.4 1020.7 378.9 1022.8 380.3 1020.7 381.8 1020.4 383.3 1022.9 384.8 1021.7 386.3 1021.4 387.8 1024.5 389.2 1022.5 390.7 1024.6 392.2 1022.5 393.7 1025.2 395.2 1026.5 396.6 1026.8 398.1 1024.7 399.6 1026.9 401.1 1024.6 402.6 1027.8 404.1 1025.2 405.6 1028.2 407 1028.8 408.5 1026.2 410 1026.7 411.5 1028.8 413 1027.6 414.4 1027.2 415.9 1030.1 417.4 1028.2 418.9 1028.2 420.4 1030.8 421.9 1028.5 423.4 1028.4 424.8 1031.9 426.3 1032.5 427.8 1032.6 429.3 1032.9 430.8 1031 432.2 1033.3 433.7 1031.5 435.2 1033.5 436.7 1034.3 438.2 1032.6 439.7 1034.6 441.1 1035.5 442.6 1033.6 444.1 1033.4 445.6 1033.9 447 1036.8 448.5 1035.6 450 1037.7 451.4 1036.5 452.7 1039.6 454.1 1040.3 455.5 1037.7 456.8 1041.2 458.2 1039.4 459.5 1041.9 460.9 1039.7 462.3 1040.6 463.6 1043.8 465 1041.7 466.4 1044.6 467.7 1045.2 469.1 1045.7 470.5 1044.4 471.8 1046.8 473.2 1044.8 474.5 1048.2 475.9 1046.2 477.3 1048.8 478.6 1049.7 480 1047.9 481.3 1050.7 482.7 1051.5 484 1049.9 485.3 1053 486.7 1050.7 488 1051.9 489.3 1055.1 490.7 1052.9 492 1056 493.4 1054.4 494.7 1057.3 496 1055 497.4 1055.4 498.7 1058.9 500 1057.2 501.4 1059.6 502.7 1058.8 504 1058.8 505.4 1058.8 506.7 1062.1 507.9 1061.3 509.1 1064.5 510.3 1062.5 511.5 1066.2 512.7 1067.4 514 1065.3 515.2 1068.1 516.4 1069.3 517.6 1067.6 518.8 1071.2 520 1069.4 521 1073 521.9 1071.5 522.9 1072.6 523.8 1073.3 524.8 1077.2 525.7 1079.1 526.7 1077.2 527.6 1080.7 528.6 1080 529.5 1083.6 530.5 1082.6 531.4 1085.5 532.4 1086.6 533.3 1085.6 534.1 1086.8 535 1087.9 535.8 1091.6 536.6 1090.6 537.5 1094 538.3 1095.2 539.2 1093.5 540 1094.6 540.8 1098.3 541.7 1097.7 542.5 1101.5 543.4 1099.9 544.2 1103.7 545 1103.4 545.9 1106.8 546.7 1105.4 547.6 1109.5 548.5 1110.7 549.4 1111.9 550.2 1110.5 551.1 1111.4 552 1115.6 552.9 1114.7 553.8 1118.4 554.6 1117.7 555.5 1121.6 556.4 1120.7 557.3 1123.5 558.9 1123.9 560.4 1121.5 562 1121.1 563.6 1124.2 565.1 1122 566.7 1122.1 567.9 1125.1 569.1 1124.3 570.2 1127.4 571.4 1125.8 572.6 1126.4 573.8 1127 574.9 1130.4 576.1 1128.7 577.3 1128.8 578.6 1132.2 580 1130.3 581.3 1133.5 582.7 1131.7 584 1135.1 585.4 1133.5 586.7 1136.1 588 1133.9 589.4 1137.7 590.7 1138.1 592 1136.3 593.4 1139.9 594.7 1137.9 596 1140.8 597.3 1139.3 598.7 1141.9 600 1140.4 601.2 1144.3 602.4 1142.5 603.6 1146 604.8 1143.8 605.9 1147.6 607.1 1145.4 608.3 1148.4 609.5 1147 610.7 1150.8 612.3 1148.2 613.9 1149.9 615.5 1147.3 617.1 1149.2 618.7 1147.2 619.7 1150.2 620.7 1152.2 621.7 1150.2 622.7 1154 623.7 1152.7 624.7 1153.9 625.7 1157 626.7 1156 628 1159.1 629.4 1160 630.7 1158.2 632 1161.2 633.4 1159.8 634.7 1160.3 636 1163.4 637.3 1162 638.7 1162.3 640 1165.4 641.1 1163.5 642.2 1167.5 643.3 1168.8 644.4 1166.7 645.5 1167.8 646.6 1170.9 647.8 1170 648.9 1173.6 650 1172.3 651.1 1175.2 652.2 1174.1 653.3 1177.6 654.6 1176.1 656 1175.9 657.3 1179.4 658.7 1177.3 660 1177.8 661.3 1178.1 662.7 1182.2 664 1180 665.4 1180.6 666.7 1181.2 667.9 1184.3 669.1 1183.1 670.3 1186.7 671.5 1185.5 672.7 1188.3 674 1187.7 675.2 1190.6 676.4 1192.1 677.6 1190.7 678.8 1193.2 680 1191.7 681.3 1194.6 682.7 1193.7 684 1196.7 685.3 1195.3 686.6 1197.5 688 1198.7 689.3 1196.4 690.6 1199.3 692 1197.8 693.3 1200.8 694.6 1199.7 696 1202.2 697.3 1200.5 698.7 1203.5 700 1202.3 701.3 1204.8 702.7 1203.5 704 1204 705.4 1204.8 706.7 1208 708 1206 709.4 1208.8 710.7 1207.7 712 1210.4 713.4 1209.2 714.7 1209.7 716 1213 717.3 1210.7 718.7 1214 720 1212.1 721.5 1214.9 723 1212.9 724.4 1215.1 725.9 1212.3 727.4 1215 728.9 1212.9 730.3 1215.1 731.8 1216.1 733.3 1216.3 734.6 1214.5 736 1217.3 737.3 1215.4 738.6 1217.9 740 1215.8 741.3 1218.5 742.7 1219.2 744 1217.8 745.3 1216.9 746.7 1219.1 748 1218.4 749.4 1215.6 750.7 1215.3 752 1214.5 753.4 1214.4 754.7 1216.4 756 1214.9 757.4 1218 758.7 1216.1 760 1216.3 761.3 1217 762.6 1220.3 764 1218.6 765.3 1218.1 766.6 1222 768 1220.8 769.3 1223.5 770.6 1224.5 772 1223.1 773.3 1225.8 774.7 1224.3 776 1225.9" stroke="#70ad47" stroke-width="7.6" fill="none" stroke-linejoin="round" stroke-linecap="round"/>
<path d="M253 1016.8 254.4 1018.3 255.8 1018.9 257.3 1018 258.7 1019.4 260.1 1018.4 261.5 1020.1 262.9 1019.3 264.4 1020.9 265.8 1020 267.2 1020.1 268.6 1021.6 270.1 1022.5 271.5 1021.2 272.9 1022.7 274.3 1021.6 275.7 1022.2 277.2 1023.8 278.6 1022.6 280 1025 281.4 1023.9 282.8 1023.4 284.2 1025.7 285.6 1024.9 287 1027.2 288.4 1025.9 289.8 1028.3 291.2 1028.3 292.6 1027.2 294.1 1029.2 295.5 1027.8 296.9 1027.5 298.3 1030.8 299.7 1029.4 301.1 1031.6 302.5 1029.6 303.9 1032.5 305.3 1031 306.7 1033.1 308.1 1031.1 309.5 1034.2 311 1032.3 312.4 1034.3 313.8 1032.7 315.2 1035 316.6 1032.8 318.1 1036.3 319.5 1034.2 320.9 1036.7 322.3 1037.5 323.7 1035.2 325.2 1037.3 326.6 1035.6 328 1038.7 329.4 1037 330.9 1039.8 332.3 1037.4 333.8 1040.6 335.2 1041.4 336.6 1042.1 338.1 1039.5 339.5 1042.7 340.9 1043.8 342.4 1041.4 343.8 1041.2 345.3 1045 346.7 1042.9 348 1046.3 349.4 1044.4 350.7 1047.9 352 1045.9 353.4 1048.7 354.7 1048.1 356 1050.5 357.3 1048.9 358.7 1051.8 360 1050.6 361.3 1051.1 362.7 1054.9 364 1053 365.3 1053.9 366.7 1057.8 368 1055.9 368.6 1059.3 369.2 1061.1 369.8 1062.8 370.4 1061.3 370.9 1063 371.5 1066.5 372.1 1065.4 372.7 1066.3 373.3 1070.6 374.4 1071.8 375.4 1070.3 376.5 1073.6 377.6 1072.8 378.6 1075.7 379.7 1074.6 380.8 1078.2 381.9 1076.8 382.9 1080.2 384 1078.8 385 1082.2 386 1081.6 387 1085.2 388 1083.4 389 1084.3 390 1087.7 391 1086.7 392 1087.8 393.3 1091.5 394.7 1089.7 396 1093.4 397.4 1093.7 398.7 1094.5 400 1093.4 401.4 1093.8 402.7 1094.4 403.9 1097.7 405.1 1097.1 406.2 1096.9 407.4 1100.2 408.6 1099.4 409.8 1102.4 410.9 1100.8 412.1 1104.3 413.3 1105.2 414.2 1104.4 415.1 1107.1 416 1106 416.9 1109.4 417.7 1108.6 418.6 1111.9 419.5 1111.5 420.4 1114.4 421.3 1113.4 422.5 1117.1 423.7 1115.9 424.9 1118.7 426.1 1118.1 427.2 1121.3 428.4 1122.1 429.6 1120.4 430.8 1124.5 432 1123 433.3 1125.8 434.7 1127.2 436 1125.4 437.4 1128.5 438.7 1127 440 1130.6 441.4 1129.2 442.7 1132.3 444.2 1132.7 445.7 1132.7 447.2 1131 448.8 1133.7 450.3 1131.1 451.8 1134.3 453.3 1131.8 454.5 1135.7 455.7 1133.8 457 1137.7 458.2 1135.9 459.4 1136.3 460.6 1140.2 461.8 1138.7 463 1142.3 464.3 1141.2 465.5 1144.2 466.7 1143.3 467.6 1146.4 468.5 1147.5 469.4 1146.3 470.3 1150.2 471.1 1149.1 472 1152 472.9 1151.2 473.8 1155.1 474.7 1153.4 475.3 1157.1 475.9 1156.5 476.5 1159.8 477.2 1159 477.8 1163.1 478.4 1162.5 479 1163 479.6 1167 480.2 1166.8 480.9 1169.8 481.5 1169.6 482.1 1173 482.7 1174.9 484 1174.3 485.4 1170.5 486.7 1171.9 488 1168 489.1 1168.5 490.3 1169.4 491.4 1172.9 492.6 1171.5 493.7 1175 494.9 1173.5 496 1176.8 497.5 1174.5 499 1176.1 500.4 1173.6 501.9 1175.5 503.4 1173.8 504.9 1175 506.3 1172.5 507.8 1174.5 509.3 1172 510.6 1173.1 512 1176.2 513.3 1177.7 514.6 1175.6 516 1178.6 517.3 1177.4 518.3 1178.1 519.3 1179.5 520.3 1182.5 521.3 1181.9 522.3 1184.8 523.3 1183.3 524.3 1184 525.3 1184.9 526.3 1188.5 527.3 1187.6 528.3 1190.4 529.3 1189.9 530.3 1192.5 531.3 1191.5 532.3 1195.3 533.3 1193.5 534.4 1196.6 535.4 1195.6 536.5 1198.9 537.6 1197.6 538.6 1200.7 539.7 1200.4 540.8 1203.8 541.9 1202.3 542.9 1203.1 544 1206.3 545.5 1204 547.1 1206.8 548.6 1204.2 550.1 1206.2 551.6 1204 553.2 1204.1 554.7 1206 555.6 1205 556.5 1209.2 557.4 1211 558.2 1209.8 559.1 1213.6 560 1212.6 561.3 1215 562.7 1213.6 564 1215.8 565.3 1213.9 566.6 1217.2 568 1215.4 569.3 1215.7 570.6 1216.3 572 1216.4 573.3 1217.1 574.8 1219.5 576.4 1216.7 577.9 1218.3 579.4 1215.8 580.9 1218.3 582.5 1214.9 584 1217.4 585.3 1216.1 586.7 1216.2 588 1219.2 589.4 1218.4 590.7 1221 592 1220.3 593.4 1223.1 594.7 1221.3 596 1225 597.4 1223.4 598.7 1226.3 600 1224.7 601.4 1227.9 602.7 1226.5 603.1 1230.7 603.6 1229.7 604 1233.6 604.4 1233.1 604.9 1237.1 605.3 1236.2 606.2 1239.8 607.1 1239 608 1241.8 608.9 1241.2 609.7 1241.7 610.6 1245.8 611.5 1245 612.4 1248.3 613.3 1247.2 614.6 1249.8 616 1251.2 617.3 1249.2 618.6 1252.1 620 1249.9 621.3 1250.4 622.7 1253.7 624 1252.3 625.2 1255.2 626.4 1254.2 627.6 1257.2 628.8 1255.8 629.9 1258.8 631.1 1257.9 632.3 1258.2 633.5 1261.3 634.7 1260.3 635.8 1263.2 636.8 1264.8 637.9 1265.9 638.9 1264.7 640 1268.2 641.1 1266.9 642.1 1267.7 643.2 1271.2 644.2 1272.1 645.3 1271.3 646.6 1273.5 648 1272.1 649.3 1274.9 650.6 1275.5 652 1273.8 653.3 1276.2 654.7 1274.7 656 1276.7 657.5 1274.9 659.1 1275.2 660.6 1277.5 662.1 1275.4 663.6 1275.1 665.2 1278.4 666.7 1276.1 668.2 1277.7 669.7 1278.3 671.2 1275.2 672.8 1277.2 674.3 1274 675.8 1276.5 677.3 1274.1 678.8 1276.8 680.3 1274.4 681.8 1277.3 683.3 1275.6 684.7 1278.3 686.2 1276.5 687.7 1279.2 689.2 1277.1 690.7 1279.5 692.2 1280.1 693.7 1278.7 695.2 1278 696.8 1280.7 698.3 1282.3 699.8 1279.5 701.3 1279.9 702.8 1280.1 704.3 1282.5 705.8 1280.8 707.3 1283.1 708.7 1281.1 710.2 1283.2 711.7 1280.9 713.2 1280.5 714.7 1283.4 716 1284.5 717.4 1282.7 718.7 1285.5 720 1283.7 721.3 1287.5 722.6 1286 724 1288.5 725.3 1286.5 726.5 1290.2 727.7 1288.7 728.9 1292 730.1 1290 731.2 1293.2 732.4 1292.2 733.6 1292.5 734.8 1296.6 736 1295.4 737.1 1296 738.1 1299.6 739.2 1298.4 740.3 1299.2 741.4 1302.8 742.4 1303.6 743.5 1302.1 744.6 1306.1 745.6 1305 746.7 1307.7 747.9 1306.3 749.1 1309.6 750.2 1308.4 751.4 1311.5 752.6 1313.1 753.8 1311 754.9 1313.9 756.1 1315 757.3 1313.8 758.6 1316.4 760 1314.9 761.3 1317.6 762.6 1316.5 764 1319.5 765.3 1320.2 766.7 1318.5 768 1318.7 769.3 1322.2 770.7 1320.4 772 1323.3 773.4 1322 774.7 1325.1 776 1323.6 777.4 1326.6 778.7 1326 779.6 1326.4 780.5 1330.1 781.4 1328.9 782.3 1332.1 783.1 1331.2 784 1335.1 784.9 1333.8 785.8 1337.2 786.7 1336.1 788.3 1336.3 789.9 1339.2 791.5 1339.6 793.1 1337.7 794.7 1340 796.2 1336.8 797.7 1339.2 799.2 1336.3 800.8 1338.5 802.3 1335.8 803.8 1337.3 805.3 1337.5 806.6 1337.9 808 1338.8 809.3 1337.5 810.6 1340.1 812 1339.5 813.3 1341.9 814.7 1341.1 816 1343.9 817.5 1343.7 819.1 1341.2 820.6 1340.7 822.1 1342.6 823.6 1340.9 825.2 1340 826.7 1342.5 828.2 1339.6 829.7 1342.1 831.2 1339.7 832.8 1341.3 834.3 1339.6 835.8 1341.6 837.3 1338.9 838.4 1342.6 839.5 1343.8 840.5 1344.9 841.6 1346.2 842.7 1344.6 844.3 1346.4 845.9 1343.6 847.5 1345.8 849.1 1343.5 850.7 1345.6 852 1343.8 853.4 1346.8 854.7 1347.4 856 1345.8 857.4 1348.4 858.7 1349.6 860 1348.1 861.4 1347.9 862.7 1350" stroke="#264478" stroke-width="7.6" fill="none" stroke-linejoin="round" stroke-linecap="round"/>
<path d="M253 1015.3 254.5 1015.5 256 1016.8 257.4 1015.7 258.9 1015.9 260.4 1016.9 261.9 1015.7 263.4 1017.2 264.8 1016.3 266.3 1017.3 267.8 1016.2 269.3 1017.9 270.8 1018 272.2 1016.8 273.7 1018.1 275.2 1016.6 276.7 1018.3 278.2 1017 279.6 1018.8 281.1 1018.8 282.6 1017 284.1 1018.9 285.6 1017 287 1018.9 288.5 1019.2 290 1017.4 291.5 1019.9 293 1020.2 294.5 1017.8 296 1020.4 297.5 1018.2 299 1018.7 300.5 1020.5 302 1019.2 303.5 1021.3 305 1019.3 306.5 1021.5 308 1022.8 309.5 1020.3 311 1022.4 312.5 1020 314 1022.7 315.5 1021.1 317 1023.7 318.5 1023.7 320 1021.9 321.5 1021.8 322.9 1024.6 324.4 1022 325.9 1024.4 327.4 1023.4 328.8 1025.5 330.3 1024.1 331.8 1026.7 333.2 1027.4 334.7 1027.7 336.2 1024.8 337.6 1027.2 339.1 1028.3 340.6 1026.4 342.1 1028.9 343.5 1026.7 345 1026.6 346.5 1026.8 348 1029.6 349.5 1030.2 351 1028.2 352.5 1030.7 354 1029.4 355.5 1031.2 357 1030.1 358.5 1031.9 360 1030.3 361.5 1033.1 363 1030.9 364.5 1033.4 366 1031.7 367.5 1034.9 369 1033.3 370.5 1035.4 372 1033.3 373.5 1036.5 375 1037.1 376.4 1034.8 377.9 1038.1 379.3 1036.5 380.8 1039.1 382.2 1039.9 383.7 1038.3 385.1 1041.2 386.6 1039.2 388 1041.6 389.2 1040.6 390.5 1043.8 391.7 1042.5 392.9 1045.3 394.2 1044.1 395.4 1045 396.6 1048.7 397.9 1046.6 399.1 1049.5 400.4 1048.8 401.6 1052.2 402.8 1050 404.1 1053.7 405.3 1052.2 406.6 1055 408 1056.6 409.3 1055.1 410.6 1057.6 412 1055.8 413.3 1059.2 414.6 1057.4 416 1061 417.3 1059 418.6 1061.8 420 1060.6 421.3 1063.7 422.6 1062.7 424 1065.1 425.3 1066.6 426.6 1067.2 428 1065.4 429.3 1069.1 430.7 1067.6 432 1070.6 433.1 1069.6 434.1 1072.6 435.2 1074.5 436.3 1072.3 437.4 1076.2 438.4 1077.1 439.5 1075.8 440.6 1078.5 441.6 1077.6 442.7 1080.7 443.4 1080.5 444 1084 444.7 1082.6 445.4 1086.5 446 1087.9 446.7 1087 447.4 1090.9 448 1089.4 448.7 1093 449.4 1092 450 1095.4 450.7 1095.3 451.4 1098.4 452 1098 452.7 1100.9 453.4 1100 454 1101 454.7 1102.3 455.3 1106.2 456 1105.8 456.5 1109.4 456.9 1108.9 457.4 1112.6 457.8 1111.3 458.3 1115.4 458.7 1116.9 459.2 1116.5 459.4 1116.9 459.7 1112.9 459.9 1114.3 460.2 1110.1 460.4 1110.7 460.7 1107 460.9 1107.7 461.2 1107.3 461.4 1105.9 461.7 1101.7 461.9 1102.6 462.5 1101.4 463.1 1104.8 463.7 1104.1 464.3 1107.9 464.9 1109.4 465.5 1108.3 466.1 1112 466.7 1111.3 467.7 1114.4 468.7 1113 469.7 1116.3 470.7 1115.3 471.7 1118.5 472.7 1117.2 473.7 1119.9 474.7 1118.6 476 1121.7 477.4 1120.4 478.7 1123.4 480 1122 481.3 1125.1 482.6 1124.3 484 1126.9 485.3 1125.5 486.6 1126.1 488 1129.3 489.3 1128.2 490.6 1131.5 492 1129.9 493.3 1132.4 494.7 1131.4 496 1134.3 497.2 1133.3 498.4 1136.3 499.6 1134.5 500.8 1137.9 501.9 1136.5 503.1 1140.1 504.3 1138.7 505.5 1139.3 506.7 1142.4 507.7 1141.5 508.7 1144.3 509.7 1142.8 510.7 1146.6 511.7 1145.7 512.7 1146.4 513.7 1147.3 514.7 1148 515.5 1152 516.4 1150.5 517.2 1153.7 518 1152.4 518.8 1155.8 519.6 1154.7 520.5 1158.4 521.3 1157.8 522.9 1156.7 524.4 1158.8 526 1156.5 527.6 1159 529.1 1156 530.7 1158 532 1159.5 533.4 1157.9 534.7 1158.1 536 1161.3 537.3 1161.8 538.6 1160.7 540 1160.7 541.3 1163.6 542.3 1162.9 543.3 1166.1 544.3 1167.5 545.3 1166 546.3 1168.4 547.3 1167.2 548.3 1170.7 549.3 1169.5 550.4 1172.8 551.4 1171.8 552.5 1175.4 553.6 1176.7 554.6 1174.5 555.7 1177.9 556.8 1177.4 557.9 1180 558.9 1181.4 560 1180 561.3 1180.5 562.7 1183.9 564 1182.5 565.3 1185.9 566.7 1184.3 568 1187.7 569.5 1185.4 571.1 1188.1 572.6 1185.6 574.1 1187.6 575.6 1185.2 577.2 1187.9 578.7 1188.2 579.9 1186 581.1 1189.5 582.2 1190.4 583.4 1189.4 584.6 1189.8 585.8 1192.8 586.9 1192.1 588.1 1194.6 589.3 1195.9 590.5 1196.7 591.7 1194.8 592.9 1198.4 594.1 1196.8 595.2 1199.4 596.4 1198.4 597.6 1201.4 598.8 1200 600 1203.4 601.3 1201.1 602.7 1204.2 604 1205.1 605.3 1203 606.6 1206 608 1204 609.3 1207.4 610.6 1208.8 612 1206.8 613.3 1209.4 614.8 1206.8 616.3 1209 617.8 1207.1 619.3 1209.5 620.7 1208 622.2 1210.5 623.7 1210.8 625.2 1208.2 626.7 1210.3 628 1208.6 629.4 1209.2 630.7 1212.4 632 1210 633.4 1212.7 634.7 1211.5 636 1214.6 637.3 1212.3 638.7 1215.5 640 1213.1 641.2 1217.1 642.4 1215.3 643.6 1216 644.8 1219.8 645.9 1221.2 647.1 1219.8 648.3 1223.2 649.5 1224.4 650.7 1222.6 651.7 1226.3 652.7 1225.4 653.7 1228.8 654.7 1230.3 655.7 1229.2 656.7 1229.3 657.7 1230.9 658.7 1231.8 659.7 1235.1 660.7 1234.2 661.7 1234.4 662.7 1238 663.7 1237.2 664.7 1240 665.7 1239.1 666.7 1242.2 668 1240.6 669.4 1243.7 670.7 1244.7 672 1243.1 673.3 1244.2 674.7 1243.4 676 1242.8 677.4 1241.8 678.7 1241.2 680 1237.6 681.4 1238.8 682.7 1236.5 684 1236.2 685.4 1239.3 686.7 1238.1 688 1238.5 689.3 1242 690.6 1239.8 692 1242.8 693.3 1241.9 694.6 1244.4 696 1242.5 697.3 1245.4 698.7 1243.5 700 1246.8 701.3 1247.8 702.7 1247.6 704 1246.3 705.4 1248.7 706.7 1246.4 708.2 1249.8 709.7 1247.4 711.2 1250.1 712.8 1248.2 714.3 1250.7 715.8 1249.6 717.3 1248.9 718.8 1248.4 720.4 1251 721.9 1251.3 723.4 1247.7 724.9 1250.1 726.5 1247.7 728 1249.3 729.3 1247.1 730.7 1250.8 732 1251.9 733.3 1252.3 734.7 1249.8 736 1253.3 737.3 1250 738.7 1249.6 740 1249.3 741.3 1250.9 742.7 1248.7 744 1250.3 745 1248.9 746 1252.2 747 1251.3 748 1255.4 749 1253.7 750 1254.5 751 1258.7 752 1257.3 753.3 1257.7 754.7 1261.5 756 1259.6 757.4 1260 758.7 1262.9 760 1261.8 761.4 1264.5 762.7 1263.3 764 1265.5 765.4 1264.5 766.7 1265.5 768 1268.6 769.3 1267 770.6 1267.8 772 1270.9 773.3 1269.6 774.6 1272.8 776 1270.8 777.3 1274 778.7 1272.3 780 1275.5 781.3 1276.8 782.7 1275.6 784 1278.4 785.4 1276.4 786.7 1279.9 788 1277.9 789.4 1280.8 790.7 1279.6 792 1282.7 793.3 1281.4 794.6 1283.7 796 1284.9 797.3 1282.9 798.6 1285.9 800 1284.2 801.3 1287.7 802.6 1286.6 804 1289.2 805.3 1288 806.6 1288.9 808 1291.3 809.3 1290 810.6 1293.1 812 1291.9 813.3 1294.8 814.7 1295.7 816 1296 817.3 1292.5 818.7 1294.5 820 1291.9 821.3 1290.4 822.7 1292.6 824 1292.1 825.5 1290.2 827.1 1291.9 828.6 1290.3 830.1 1290.2 831.6 1293.1 833.2 1291.2 834.7 1292.8 836.2 1293.5 837.7 1290.8 839.2 1293.4 840.8 1290.5 842.3 1290.4 843.8 1293.5 845.3 1291.4 846.8 1293.2 848.4 1290.4 849.9 1291.6 851.4 1291.4 852.9 1288.8 854.5 1291.1 856 1287.9 857.3 1291.3 858.7 1289 860 1288.8 861.4 1292.6 862.7 1292.9 864 1291 865.4 1293.6 866.7 1292.2 868.2 1294.7 869.7 1292.5 871.1 1292.8 872.6 1295.6 874.1 1296.5 875.6 1293.9 877 1297 878.5 1297 880 1294.5 881.5 1297.4 883.1 1295.5 884.6 1298.5 886.1 1296.8 887.6 1299.3 889.2 1296.9 890.7 1299.8 892.3 1297.8 893.9 1297.2 895.5 1296.6 897.1 1295.9 898.7 1298.6 900 1296.8 901.4 1299.8 902.7 1300.4 904 1298.7 905.3 1298.7 906.6 1301.2 908 1299.3 909.3 1302.7 910.6 1301 912 1301.2 913.3 1304.4 914.6 1301.9 916 1304.9 917.3 1303 918.7 1303.5 920 1305.9 921.6 1306.5 923.2 1306.9 924.8 1304 926.4 1306.4 928 1303.9 928.9 1305.7 929.8 1304.5 930.6 1300.7 931.5 1302.3 932.4 1298.9 933.3 1300.1 934 1298.4 934.8 1294.7 935.5 1296 936.3 1291.8 937 1293.2 937.8 1289.3 938.5 1290.4 939.3 1287.3 940 1288.1 941.3 1285.2 942.7 1286.3 944 1283.5 945.4 1283 946.7 1282.5 948 1284.3 949.4 1285.2 950.7 1284" stroke="#9e480e" stroke-width="7.6" fill="none" stroke-linejoin="round" stroke-linecap="round"/>
<path d="M253 1014.8 254.5 1016.2 256 1015.1 257.4 1015.1 258.9 1016.6 260.4 1015.4 261.9 1016.9 263.4 1015.3 264.8 1016.6 266.3 1015.6 267.8 1016.8 269.3 1015.6 270.8 1017.4 272.2 1015.6 273.7 1015.5 275.2 1017.5 276.7 1015.9 278.2 1015.7 279.6 1017.9 281.1 1015.9 282.6 1016.3 284.1 1018.1 285.6 1016.5 287 1016.4 288.5 1018.4 290 1017 291.5 1018.7 293 1017.2 294.5 1018.7 296 1017.2 297.5 1019.7 299 1017.9 300.5 1019.4 302 1017.3 303.5 1019.8 305 1017.4 306.5 1020.2 308 1018.5 309.5 1021 311 1018.3 312.5 1020.7 314 1018.8 315.5 1018.6 317 1018.3 318.5 1021.3 320 1021.6 321.5 1020 322.9 1022.6 324.4 1020.8 325.9 1022.6 327.4 1021.3 328.8 1023.5 330.3 1021.6 331.8 1024 333.2 1021.9 334.7 1024.8 336.2 1025 337.6 1023.1 339.1 1025.5 340.6 1023.6 342.1 1026.6 343.5 1024.7 345 1027.6 346.4 1025.7 347.9 1025.5 349.3 1028.1 350.7 1026.9 352.1 1029.4 353.6 1027.4 355 1030.6 355.8 1028.8 356.5 1032.8 357.2 1031.4 358 1035 359.5 1034.3 361 1034.5 362.3 1036.2 363.7 1033.1 365 1031.7 366.4 1034.5 367.8 1034.6 369.2 1034.6 370.6 1032 372 1032 373.3 1034.8 374.7 1032.6 376 1035.1 377.3 1033.6 378.7 1036.5 380 1034 381.4 1037.1 382.9 1035.4 384.3 1035.8 385.7 1038.9 387.1 1037.1 388.6 1040 390 1038.1 391.2 1040.9 392.3 1042.6 393.5 1040.6 394.7 1044.1 395.8 1042.4 397 1046.3 398.2 1044.5 399.5 1047.7 400.8 1045.9 402 1046.1 403.2 1049.8 404.5 1050.5 405.8 1049 407 1051.3 408.3 1049.8 409.6 1052.8 410.9 1054.1 412.2 1051.5 413.5 1054.4 414.8 1052.9 416.1 1055.9 417.4 1054.7 418.7 1057.5 420 1055.9 421.3 1058.4 422.6 1056.7 424 1060 425.3 1058.3 426.6 1059.1 428 1062.1 429.3 1061.2 430.6 1063.8 432 1062.9 433.3 1062.8 434.6 1066.3 436 1064.9 437.3 1068.2 438.4 1067 439.4 1070 440.5 1068.4 441.6 1072.4 442.6 1070.6 443.7 1071.8 444.8 1075.6 445.9 1077 446.9 1078.3 448 1075.9 449.3 1076.6 450.7 1077.6 452 1078.3 453.3 1081.4 454.6 1080.4 456 1081.1 457.3 1084.3 458.6 1082.2 460 1085.5 461.3 1083.8 462.6 1087.2 464 1085.9 465.3 1088 466.7 1086.8 468 1090.2 469.3 1088.1 470.7 1091.4 472 1089.8 473.4 1092.3 474.7 1091.1 475.7 1094.2 476.6 1092.9 477.6 1096.6 478.6 1095.6 479.5 1096.1 480.5 1099.4 481.4 1098 482.4 1102.3 483.4 1101.1 484.3 1101.7 485.3 1104.9 486.4 1103.9 487.4 1107.3 488.5 1105.8 489.6 1109.8 490.6 1108 491.7 1112 492.8 1110.4 493.9 1113.3 494.9 1114.8 496 1113.3 497.2 1116.5 498.4 1115.8 499.6 1115.9 500.8 1119.4 501.9 1119 503.1 1122.3 504.3 1123.5 505.5 1124.6 506.7 1122.5 508 1125.4 509.4 1124.5 510.7 1127.2 512 1126.4 513.4 1126.9 514.7 1129.7 516 1130.7 517.3 1128.9 518.7 1132.3 520 1130.6 521.3 1134 522.7 1132.7 524 1132.5 525.3 1132.8 526.6 1135.9 528 1135.1 529.3 1135.5 530.6 1136 532 1139 533.3 1137.6 534.5 1140.4 535.7 1138.9 537 1141.9 538.2 1140.4 539.4 1141.7 540.6 1144.9 541.8 1145.8 543 1144.1 544.3 1147.2 545.5 1145.6 546.7 1149 547.8 1147.7 548.8 1150.9 549.9 1150.4 550.9 1153.2 552 1152.1 553.1 1155.1 554.1 1154.6 555.2 1157.9 556.2 1156.7 557.3 1159.7 558.5 1160.9 559.7 1160 560.9 1162.8 562.1 1162.1 563.2 1165.3 564.4 1163.7 565.6 1166.8 566.8 1168.4 568 1167 569.2 1170.5 570.4 1171 571.6 1172 572.8 1173.2 573.9 1174.1 575.1 1171.9 576.3 1174.9 577.5 1176.5 578.7 1177.9 580 1176.1 581.4 1178.4 582.7 1177 584 1177.6 585.3 1180.7 586.6 1179.1 588 1181.5 589.3 1180.1 590.6 1182.8 592 1184.4 593.3 1182.3 594.6 1184.6 596 1183.2 597.3 1185.9 598.6 1183.4 600 1183.3 601.3 1184.8 602.7 1182 604 1184.3 605.4 1182 606.8 1184.7 608.1 1183 609.5 1185.8 610.9 1183.4 612.2 1186.4 613.6 1184.7 615 1187.5 616.4 1185.1 617.7 1185.5 619.1 1188.6 620.5 1187.4 621.8 1189.5 623.2 1190.3 624.5 1188.8 625.9 1192 627.3 1189.9 628.6 1193 630 1190.8 631.2 1194.2 632.4 1192.6 633.6 1196.1 634.8 1197.1 636 1195.6 637.2 1198.1 638.4 1196.7 639.6 1197.3 640.8 1201 642 1200.2 643.3 1203.3 644.5 1201.5 645.8 1204.1 647 1203.4 648.3 1206.1 649.5 1204.9 650.8 1207.6 652 1208.9 653.3 1207.4 654.8 1209.2 656.3 1207.8 657.8 1210.8 659.3 1208.5 660.7 1211.6 662.2 1209.3 663.7 1210 665.2 1209.9 666.7 1212.7 668 1211.5 669.4 1211.4 670.7 1212.7 672 1212.8 673.4 1216.7 674.7 1215.4 676 1218.2 677.3 1216.2 678.7 1219.2 680 1217.6 681.3 1220.7 682.7 1218.6 684 1221.5 685.3 1220.4 686.6 1223 688 1221.5 689.3 1222.1 690.6 1222.4 692 1225.5 693.3 1226.9 694.6 1227.2 696 1225.2 697.3 1228.6 698.7 1227.3 700 1229.4 701.3 1228.1 702.7 1230.8 704 1232.5 705.4 1230.3 706.7 1231 708.2 1233.5 709.7 1231.4 711.2 1231.1 712.8 1231.4 714.3 1231.8 715.8 1233.8 717.3 1232.3 718.8 1234.1 720.2 1232.3 721.7 1234.3 723.1 1232.2 724.6 1233.9 726 1233.7 727.5 1231.4 728.9 1233.4 730.4 1231.5 731.8 1233.5 733.3 1230.5 734.5 1233.6 735.7 1232.9 736.9 1236.2 738.1 1234.9 739.2 1237.5 740.4 1236.1 741.6 1239.3 742.8 1237.7 744 1241.4 745.2 1242.1 746.4 1240.2 747.6 1243.4 748.8 1242.3 749.9 1245.7 751.1 1244.3 752.3 1245.2 753.5 1248.4 754.7 1249.5 756 1247.6 757.4 1249.8 758.7 1247.9 760 1251.2 761.3 1249.8 762.6 1252.4 764 1249.9 765.3 1253.2 766.8 1253.5 768.4 1251.4 769.9 1251.5 771.4 1254 772.9 1251.5 774.5 1253.8 776 1252.1 777.5 1252.3 779.1 1252 780.6 1255.2 782.1 1252.6 783.6 1253.2 785.2 1253.1 786.7 1256 788 1254.5 789.4 1256.4 790.7 1254.8 792 1257.7 793.3 1259 794.6 1256.6 796 1259.7 797.3 1259.8 798.5 1258.6 799.7 1259.5 800.9 1260 802.1 1263.8 803.2 1262.5 804.4 1265.5 805.6 1266.8 806.8 1267.4 808 1265.9 809.5 1268.2 811.1 1266.6 812.6 1269.3 814.1 1266.9 815.6 1267 817.2 1270.2 818.7 1270.5 819.8 1269.2 821 1272.1 822.1 1273.4 823.3 1274.6 824.4 1276 825.6 1276.4 826.7 1274.7 827.7 1278.1 828.7 1279 829.7 1277.6 830.7 1280.7 831.7 1279.4 832.7 1283.1 833.7 1284.7 834.7 1283.3 836.3 1285.8 837.9 1283.6 839.5 1285.8 841.1 1283.4 842.7 1286.6 843.7 1282.8 844.7 1284 845.7 1280.7 846.7 1282.2 847.7 1281.2 848.7 1277.6 849.7 1278.2 850.7 1274.6 852.2 1273.9 853.7 1276.2 855.2 1276.1 856.8 1273.2 858.3 1274.7 859.8 1275.3 861.3 1272 862.8 1274.4 864.3 1271 865.8 1272.9 867.3 1270.6 868.7 1270.1 870.2 1271.4 871.7 1268.9 873.2 1270.7 874.7 1268 876.3 1268.3 877.9 1271.1 879.5 1269.2 881.1 1268.8 882.7 1271.9 884 1271.8 885.4 1268.6 886.7 1270.6 888 1267.7 889.4 1266.9 890.7 1269.2 892 1268.2 893.3 1269.1 894.7 1272.8 896 1271 897.3 1271.9 898 1275.5 898.6 1275 899.3 1275.8 900 1279.3 900.6 1281.3 901.3 1280.3 902 1284.1 902.7 1283.4 903.3 1284.3 904 1288.3 904.8 1286.5 905.6 1287.7 906.4 1288.4 907.2 1292.7 908 1291.4 908.8 1295.3 909.6 1294.3 910.4 1297.6 911.2 1296.4 912 1300 913 1298.3 914 1302 915 1301.3 916 1304.8 917 1306 918 1304.2 919 1308.4 920 1306.5 920.9 1310.6 921.8 1308.9 922.7 1312.8 923.6 1311.9 924.4 1315.2 925.3 1313.9 926.2 1317.8 927.1 1316.3 928 1319.9 929.1 1318.5 930.1 1322.2 931.2 1320.4 932.3 1324.4 933.4 1322.7 934.4 1326.1 935.5 1324.6 936.6 1326 937.6 1328.9 938.7 1328 939.8 1331.1 940.8 1333.1 941.9 1331.5 942.9 1334.8 944 1336.2 945.1 1334.9 946.1 1337.8 947.2 1336.9 948.2 1340.4 949.3 1338.9 950.4 1340.1 951.4 1343.4 952.5 1342.2 953.6 1345.7 954.6 1344 955.7 1347.1 956.8 1346.7 957.9 1347.4 958.9 1350.9 960 1349.7 961.6 1352.3 963.2 1350.2 964.8 1353.1 966.4 1350.7 968 1350.2 969.2 1353.5 970.4 1353 971.6 1356 972.8 1354.9 973.9 1358.1 975.1 1355.8 976.3 1359.6 977.5 1360.6 978.7 1361.7 979.6 1360.3 980.4 1364 981.3 1362.8 982.2 1366.5 983 1365.5 983.9 1368.8 984.7 1367.5 985.6 1371.3 986.2 1370.9 986.8 1371.9 987.4 1375.1 988 1374.8 988.6 1378 989.2 1377.6 989.9 1380.5 990.5 1379.7 991.1 1383 991.7 1382.5 992.3 1386.6 992.9 1387.7 993.8 1386.9 994.8 1390.5 995.7 1389.1 996.6 1392.4 997.5 1391.3 998.4 1394.9 999.4 1394.2 1000.3 1398 1001.4 1396.8 1002.5 1399.5 1003.6 1398 1004.7 1401.3 1005.8 1399.8 1006.9 1403.2 1008 1402.3 1009.1 1405.4 1010 1407.1 1010.9 1404.9 1011.7 1408.5 1012.6 1410.1 1013.5 1408.3 1014.4 1412.3 1015.3 1410.9 1016.1 1414.6 1017 1413.8 1017.9 1416.9 1019 1415.9 1020.1 1419.3 1021.2 1418.3 1022.3 1421 1023.4 1420.1 1024.5 1423 1025.6 1422 1026.7 1426.1 1028.2 1423.6 1029.6 1427 1031.1 1424.9 1032.6 1427.7 1034 1426.6 1035.5 1428.3" stroke="#636363" stroke-width="7.6" fill="none" stroke-linejoin="round" stroke-linecap="round"/>
<path d="M253.3 1014.1 254.9 1013.8 256.4 1015.6 257.9 1013.7 259.5 1013.8 261.1 1015.7 262.6 1014.2 264.1 1016 265.7 1013.9 267.2 1016.7 268.8 1014.6 270.4 1016.8 271.9 1014.8 273.4 1017.1 275 1014.5 276.5 1017.1 278 1015.1 279.5 1017 281 1014.9 282.5 1014.6 284 1017.5 285.5 1014.5 287 1017.7 288.5 1015.2 290 1018.2 291.5 1015.7 292.9 1015.2 294.4 1018.3 295.8 1019.2 297.3 1016.4 298.7 1019.8 300.2 1016.9 301.6 1019.4 303.1 1016.2 304.5 1019.6 306 1016.4 307.4 1020.5 308.9 1018.1 310.3 1021 311.8 1021.4 313.2 1018.7 314.6 1018 316.1 1022.5 317.5 1019.2 319 1022.9 320.4 1022.8 321.9 1020.2 323.3 1022.8 324.8 1020.5 326.3 1024 327.9 1021.5 329.4 1023.9 330.9 1021.3 332.4 1021.8 333.9 1024.5 335.4 1025.7 337 1023.1 338.5 1026.2 340 1022.9 341.5 1026.9 343 1023.9 344.6 1027.5 346.1 1024.9 347.6 1028.1 349.1 1024.9 350.6 1028.3 352.1 1025.4 353.7 1025.7 355.2 1029.6 356.7 1026.9 358.2 1026.5 359.7 1029.8 361.1 1026.8 362.6 1031.6 364.1 1028 365.6 1031.3 367.1 1028.3 368.6 1028.3 370 1029.6 371.5 1030 373 1033.4 374.4 1034.3 375.8 1031.2 377.2 1030.9 378.7 1034.6 380.1 1032.5 381.5 1035.5 382.9 1033.7 384.3 1037.2 385.8 1034.5 387.2 1037.2 388.6 1034.6 390 1038.3 391.5 1038.9 392.9 1035.9 394.4 1035.8 395.8 1036.4 397.3 1040.9 398.7 1038.6 400.2 1041.4 401.6 1039.6 403.1 1042.7 404.6 1039.8 406 1043.6 407.5 1040.9 408.9 1044.3 410.4 1041.8 411.8 1045.5 413.3 1047 414.7 1047.7 416.2 1044.6 417.6 1047.6 419.1 1048.2 420.5 1046.3 421.9 1049.3 423.4 1050.3 424.8 1047.9 426.2 1051.4 427.7 1048 429.1 1052.8 430.6 1049.3 432 1053.2 433.2 1051.9 434.4 1056 435.6 1053.3 436.8 1057 437.9 1058 439.1 1059.2 440.3 1057.1 441.5 1056.7 442.7 1057.2 443.9 1062.4 445.1 1060.1 446.2 1065.2 447.4 1062.3 448.6 1066.4 449.8 1067.6 450.9 1065.5 452.1 1069.9 453.3 1067.8 454.5 1072.4 455.7 1070.3 457 1070.3 458.2 1074.3 459.4 1075.9 460.6 1073.8 461.8 1077.4 463 1078.5 464.3 1077.1 465.5 1080.1 466.7 1081.7 468 1078.7 469.4 1082.7 470.7 1080.2 472 1080.4 473.3 1081 474.6 1084.7 476 1083 477.3 1082.9 478.4 1084 479.4 1085.5 480.5 1087.1 481.6 1091.4 482.6 1089.9 483.7 1093.5 484.8 1091.6 485.9 1095.3 486.9 1093.6 488 1097.4 489.1 1095.5 490.1 1096.5 491.2 1100.8 492.3 1101.6 493.4 1102.8 494.4 1101.5 495.5 1105 496.6 1103.2 497.6 1107.3 498.7 1105.4 499.9 1109.2 501.1 1108 502.3 1110.5 503.5 1109.8 504.7 1112.4 506 1111.4 507.2 1112.2 508.4 1115.9 509.6 1114 510.8 1117.4 512 1119.2 513.3 1117.4 514.7 1120.5 516 1118.9 517.4 1121.4 518.7 1120.1 520 1123.3 521.4 1122.4 522.7 1122.1 524 1126.3 525.4 1124.3 526.7 1124.8 528 1126.1 529.3 1129.6 530.6 1128.4 532 1128.9 533.3 1132.2 534.8 1130 536.4 1133 537.9 1130.8 539.4 1133.4 540.9 1131.2 542.5 1133.9 544 1131.9 545.2 1135 546.4 1133.9 547.6 1137.1 548.8 1136.7 549.9 1139.8 551.1 1141.2 552.3 1140 553.5 1140.4 554.7 1143.6 555.9 1142.9 557.1 1146.1 558.2 1144.8 559.4 1148.2 560.6 1146.5 561.8 1149.5 562.9 1148.5 564.1 1152.2 565.3 1151.3 566.6 1153.9 568 1152.4 569.3 1155.3 570.6 1153.4 572 1156.9 573.3 1154.5 574.7 1157.2 576 1155.8 577.3 1158.7 578.7 1159.8 580 1158.5 581.4 1161.3 582.7 1159.1 584 1162.3 585.4 1160.4 586.7 1161.4 588 1164 589.4 1162.7 590.7 1165 592 1164 593.3 1166.1 594.6 1166.7 596 1165 597.3 1168 598.7 1165.7 600.1 1169.3 601.6 1167.1 603 1169.6 604 1171.1 605 1170.2 606 1173.3 607 1172.2 608 1173.5 608.7 1176.8 609.3 1175.7 610 1179.5 610.6 1179.2 611.3 1182.6 612 1181.1 612.6 1185.2 613.3 1183.9 614.2 1187.5 615.1 1186.8 616 1187 616.9 1191.3 617.8 1190.2 618.7 1192.9 620.2 1191 621.7 1191.2 623.2 1194.3 624.8 1192 626.3 1194.9 627.8 1193.6 629.3 1195.6 630.8 1193.4 632.3 1196.7 633.8 1194.8 635.3 1196.8 636.7 1195 638.2 1197.8 639.7 1196 641.2 1195.6 642.7 1198.7 644.2 1199.7 645.7 1197.4 647.1 1200.2 648.6 1197.7 650.1 1201.1 651.6 1198.8 653 1201.1 654.5 1199.9 656 1200.2 657.5 1202.2 659.1 1201 660.6 1203 662.1 1201.4 663.6 1203.6 665.2 1203.8 666.7 1201.5 668.2 1203.6 669.7 1201.3 671.1 1204.3 672.6 1204.9 674.1 1202.4 675.6 1204.3 677 1205.1 678.5 1203.1 680 1205.4 681.5 1203.7 683 1206.2 684.4 1204.3 685.9 1204.8 687.4 1207.7 688.9 1205.2 690.3 1207.8 691.8 1206.3 693.3 1209.5 694.6 1210 696 1207.8 697.3 1210.6 698.7 1209.9 700 1209.9 701.3 1213.1 702.7 1212 704 1214.9 705.4 1215.6 706.7 1214 708 1217 709.4 1215.4 710.7 1218.5 712 1216.6 713.3 1220.2 714.6 1221.2 716 1221.6 717.3 1220.3 718.6 1222.8 720 1221.2 721.3 1223.7 722.6 1221.9 724 1221.8 725.3 1225.5 726 1224.3 726.8 1228.1 727.5 1229.9 728.2 1227.9 728.9 1231.4 729.7 1230.7 730.4 1232.3 731.1 1235.4 731.8 1234.4 732.6 1238.4 733.3 1237.4 734.3 1238.4 735.3 1239 736.3 1242.8 737.3 1241.9 738.3 1242.7 739.3 1242.9 740.3 1243.9 741.3 1248.2 742.4 1244.2 743.5 1245.8 744.5 1245 745.6 1244 746.7 1242.4 748 1239.8 749.4 1241.5 750.7 1240.5 752 1238 753.4 1238.8 754.7 1235.7 756 1239.5 757.4 1240.4 758.7 1241.1 760 1239.6 761.3 1242.7 762.6 1241.5 764 1241.3 765.3 1245.5 766.6 1244 768 1246.6 769.3 1245.3 770.7 1248.6 772 1246.8 773.3 1250.2 774.7 1248.3 776 1249 777.4 1252.4 778.7 1253.6 779.9 1252 781.1 1255.3 782.2 1254 783.4 1257 784.6 1258.7 785.8 1256.8 786.9 1259.9 788.1 1259.5 789.3 1262.4 790.3 1263.3 791.3 1261.8 792.3 1265.5 793.3 1263.9 794.3 1267.3 795.3 1269.2 796.3 1267.4 797.3 1267.7 798.1 1271.2 798.9 1270.4 799.7 1273.5 800.5 1272.4 801.3 1275.9 802.1 1278.1 802.9 1276.9 803.7 1280.2 804.5 1282 805.3 1280.6 806.3 1283.1 807.3 1282.6 808.3 1285.9 809.3 1283.8 810.3 1287.2 811.3 1286.1 812.3 1289.9 813.3 1287.8 814.3 1288.5 815.3 1292.5 816.3 1290.8 817.3 1294.8 818.3 1292.8 819.3 1296.7 820.3 1295.2 821.3 1298.7 822.9 1296.4 824.5 1298 826.1 1298.3 827.7 1296.4 829.3 1298.3 830.6 1296.9 832 1300.1 833.3 1298.2 834.6 1300.8 836 1299.1 837.3 1302.4 838.7 1301 840 1304.2 840.7 1302.6 841.3 1306.4 842 1305.6 842.6 1308.9 843.3 1308.6 844 1309.2 844.6 1312.8 845.3 1314.6 846.5 1313.4 847.7 1313.6 848.9 1317.2 850.1 1315.6 851.2 1316.5 852.4 1320.1 853.6 1318.7 854.8 1322 856 1320.5 857.1 1323.2 858.1 1321.8 859.2 1323.4 860.3 1327.1 861.4 1328 862.4 1326.8 863.5 1329.5 864.6 1328.8 865.6 1329.9 866.7 1332.7 867.8 1332.3 868.8 1335.3 869.9 1334.1 870.9 1337.4 872 1335.9 873.1 1339.5 874.1 1338.8 875.2 1339 876.2 1342.7 877.3 1341.6 878.5 1344.6 879.7 1343.5 880.9 1344.1 882.1 1348 883.2 1346.9 884.4 1349.8 885.6 1349.2 886.8 1351.9 888 1351.1 888.8 1354.8 889.6 1353.3 890.4 1357.3 891.2 1356.1 892 1359.7 892.8 1358.3 893.6 1361.7 894.4 1360.8 895.2 1361.4 896 1365.3 897 1367.2 898.1 1364.5 899.1 1368.6 900.2 1367.5 901.2 1371.2 902.2 1372.2 903.3 1369.9 904.3 1373.4 905.4 1371.7 906.4 1376.1 907 1374.9 907.6 1379.4 908.2 1377.4 908.7 1381.2 909.3 1383.2 909.9 1381.1 910.5 1386.2 911.1 1383.7 911.7 1388.3 912.3 1386.7 912.9 1388.2 913.4 1392.7 914 1394.9 914.6 1392.5 915.2 1397.3 915.9 1394.7 916.7 1399.3 917.4 1398.1 918.1 1398.8 918.9 1403.6 919.6 1400.8 920.3 1406.2 921 1403.7 921.8 1405 922.5 1409.7 923.2 1408 924 1411.5 924.7 1409.5 925.4 1414.6 926.2 1412.3 926.9 1417.7 927.3 1416.3 927.8 1419.9 928.2 1422.3 928.7 1420.4 929.1 1424.7 929.5 1423.1 930 1427.6 930.4 1425.8 930.9 1430.1 931.3 1432.8 931.7 1429.8 932.2 1431.8 932.6 1436.3 933.1 1434 933.5 1439.7 933.9 1437.8 934.4 1442.4 934.8 1440.7 935.3 1446 935.7 1444.2 936 1445.6 936.4 1439.8 936.7 1442.4 937 1436.9 937.3 1439.5 937.7 1435.3 938 1437.2 938.3 1435.4 938.7 1429.6 939 1431.9 939.3 1426.5 939.6 1428.4 940 1428.5 940.3 1422.4 940.6 1424.3 940.9 1420.3 941.3 1422.5 941.6 1416.6 942.1 1418 942.6 1418.7 943.2 1424.8 943.7 1425.8 944.2 1427.6 944.7 1425.3 945.2 1426.4 945.7 1431.8 946.3 1433.7 946.8 1431.3 947.3 1431 947.8 1437.4 948.3 1435.3 948.8 1436.4 949.4 1441.2 949.9 1439 950.4 1439.4 951.9 1443 953.3 1438.5 954.8 1438 956.3 1440.3 957.4 1438.7 958.4 1443.2 959.5 1441 960.6 1440.9 961.6 1442.2 962.7 1447.6 963.7 1445.1 964.8 1450 965.9 1446.5 966.9 1451.8 968 1448.3 968.8 1454.1 969.6 1455.9 970.4 1458.3 971.2 1454.5 972 1460.3 972.8 1456.7 973.6 1462 974.4 1460.3 975.2 1465.4 976 1461.5 976.8 1468.4 977.9 1462.9 979 1465.7 980.1 1460.9 981.2 1464 981.9 1461.1 982.7 1467.7 983.4 1465.4 984.1 1465 984.9 1470.5 985.6 1473.6 986.3 1469.3 987 1474.9 987.8 1472.8 988.5 1473.1 990 1477.5 991.4 1474.1 992.9 1473.5 994.4 1477.4 995.8 1479.6 997.3 1473.1 998.8 1478.4 1000.2 1473.2 1001.7 1476.7 1003.2 1473.4 1004.7 1477.4 1006.1 1478.5 1007.6 1473.4 1009.1 1470.7 1010.2 1478.2 1011.3 1475 1012.4 1480.2 1013.5 1475.5 1014.6 1481.4 1015.7 1478 1016.8 1484.4 1017.9 1480.5 1018.6 1483.8 1019.3 1478.3 1020.1 1482.2 1020.8 1482.1 1021.3 1483.9 1021.9 1479.4 1022.4 1485.6 1022.9 1486.6 1023.5 1482 1024 1483.2 1024.6 1484.9 1025.1 1492.2 1025.6 1494.7 1026.2 1490 1026.7 1495.3 1027.9 1490.8 1029 1495.1 1030.2 1489.1 1031.3 1486.5 1032.5 1492.2 1033.6 1486.8 1034.6 1494.3 1035.7 1495.7 1036.8 1491.6 1037.9 1496.3 1038.9 1493.7 1040 1498.6 1041.1 1495.6 1042.2 1501.3 1043.2 1496.1 1044.3 1503.2 1045.1 1500.2 1046 1505.1 1046.8 1501.9 1047.6 1508.3 1048.4 1504.4 1049.3 1511.9 1050.1 1512.7 1050.9 1506.9 1051.8 1515.8 1052.6 1510.9 1053.5 1518 1054.3 1519.7 1055.2 1513.3 1056 1513.5 1057.5 1519.6 1059 1513.8 1060.4 1511.9 1061.9 1511.1 1062.8 1518.6 1063.7 1515.9 1064.5 1516.6 1065.4 1523.8 1066.3 1518.5 1067.2 1525.8 1068.1 1520.8 1068.9 1528.7 1069.8 1522.1 1070.7 1528.7 1071.8 1524.7 1072.8 1531.4 1073.9 1527.6 1075 1526.5 1076 1534.5 1077.1 1529.9 1078.1 1537 1079.2 1540.3 1080.3 1534.7 1081.3 1535.1 1082.4 1541.2 1082.8 1537.3 1083.1 1544.9 1083.5 1539.9 1083.8 1547.7 1084.2 1550.1 1084.6 1544.6 1084.9 1552.2 1085.3 1547.4 1086.2 1554.7 1087.1 1550.8 1088 1558.3 1088.9 1551.3 1089.8 1560.2 1090.7 1554.9 1091.7 1560.4 1092.6 1563.9 1093.5 1565.3 1094.4 1559.2 1095.3 1565.7 1096.2 1560.9 1097.1 1568.7 1098.6 1563.3 1100 1570.2 1101.5 1563.6 1102.9 1569.6 1104.4 1564.6 1105.9 1572 1107.3 1566.5 1108.8 1571.8 1110.3 1573.7 1111.8 1568 1113.2 1574.1 1114.7 1567.7 1115.8 1575.5 1116.9 1570.4 1118 1571.5 1119.1 1578.9 1120.2 1574.3 1121.3 1579.7 1122.4 1581.4 1123.5 1577.2 1124.8 1583.5 1126.1 1578.1 1127.4 1584.4 1128.7 1580.1 1130 1586.6 1131.3 1587.1 1132.6 1582.6 1133.9 1581.1 1135.2 1581 1136.1 1588.9 1137 1585.3 1137.8 1591.8 1138.7 1588.6 1139.6 1594.3 1140.5 1591.1 1141.4 1596.9 1142.2 1591.6 1143.1 1599.9 1144 1595.1 1145.5 1600.7 1146.9 1594.3 1148.4 1601.3 1149.9 1596 1151.3 1600.4 1152.8 1595.4 1153.2 1602.9 1153.6 1598.3 1154 1604.2 1154.5 1607.6 1154.9 1609.4 1155.3 1604.6 1155.7 1610.4 1157.2 1604.4 1158.7 1610.8 1160.1 1610.3 1161.6 1605.2 1163.1 1603.2 1164.5 1609.1 1166 1604.7 1167.5 1609 1168.8 1603.5 1170 1611.4 1171.3 1605.8 1172.5 1604.9 1173.8 1612.9 1175 1608.9 1176.3 1616 1177.5 1610.2 1178.6 1616.4 1179.8 1611.8 1180.9 1614.2 1182.1 1620 1183.6 1613.4 1185 1619.1 1186.5 1614.5 1188 1618.3 1189.4 1619.8 1190.9 1612.7 1192.2 1612.5 1193.5 1619.9 1194.8 1613.8 1196.1 1614.1 1197.5 1614.1 1198.8 1622.2 1200.1 1618.7 1201.4 1625.2 1202.7 1619.3 1203.8 1627.1 1204.9 1622.7 1206 1622.9 1207.1 1623.2 1208.2 1629.4 1209.3 1631.1 1210.4 1625.5 1211.5 1633.9 1212.6 1628.3 1213.7 1629.6 1214.8 1636.6 1215.9 1638.4 1217 1633.8 1218.1 1631.8 1219.2 1632.3 1220.3 1641.7 1221.8 1635 1223.2 1640.7 1224.7 1636.4 1226.2 1641.8 1227.6 1636.3 1229.1 1642.6 1229.8 1638.1 1230.5 1644.7 1231.3 1639.2 1232 1646.9 1232.7 1648.2 1233.5 1651 1234.2 1645.5 1234.9 1650.8 1236.4 1644.8 1237.9 1652.1 1239.3 1644.8 1240.8 1652.5 1242.3 1647.2 1243.8 1652.7 1245.2 1653.3 1246.7 1653.9 1248 1653.1 1249.3 1648.4 1250.6 1652.8 1251.9 1647.6 1253.2 1656.1 1254.5 1650.3 1255.8 1656 1257.1 1650.1 1258.4 1657.5 1259.9 1651.5 1261.3 1657.4 1262.8 1658.5 1264.2 1658.6 1265.7 1652.7 1267.2 1657.6 1268.6 1650.9 1270.1 1658 1271.6 1653.4 1273 1659.3 1274.5 1652.1 1276 1653 1277.5 1652.3 1279 1659.9 1280.4 1654.7 1281.9 1660.1 1283.2 1655.8 1284.4 1663.5 1285.7 1656.5 1286.9 1657.8 1288.2 1658.8 1289.4 1665.8 1290.7 1660.4 1291.4 1659.5 1292.2 1665 1292.9 1658.6 1293.6 1655.7 1293.9 1663.7 1294.2 1659.6 1294.6 1667.1 1294.9 1661.8 1295.2 1669.4 1295.5 1664.2 1295.9 1672.8 1296.2 1668.7 1296.5 1672.4" stroke="#997300" stroke-width="7.6" fill="none" stroke-linejoin="round" stroke-linecap="round"/>
</g>
<text x="222.2" y="1024.4" font-size="34.9" text-anchor="end">0.00E+00</text>
<text x="222.2" y="1097.2" font-size="34.9" text-anchor="end">-2.00E-04</text>
<text x="222.2" y="1170.1" font-size="34.9" text-anchor="end">-4.00E-04</text>
<text x="222.2" y="1242.9" font-size="34.9" text-anchor="end">-6.00E-04</text>
<text x="222.2" y="1315.7" font-size="34.9" text-anchor="end">-8.00E-04</text>
<text x="222.2" y="1388.5" font-size="34.9" text-anchor="end">-1.00E-03</text>
<text x="222.2" y="1461.4" font-size="34.9" text-anchor="end">-1.20E-03</text>
<text x="222.2" y="1534.2" font-size="34.9" text-anchor="end">-1.40E-03</text>
<text x="222.2" y="1607" font-size="34.9" text-anchor="end">-1.60E-03</text>
<text x="222.2" y="1679.9" font-size="34.9" text-anchor="end">-1.80E-03</text>
<text x="222.2" y="1752.7" font-size="34.9" text-anchor="end">-2.00E-03</text>
<text x="253.4" y="1065.2" font-size="34.9" text-anchor="middle">0</text>
<text x="340.4" y="1065.2" font-size="34.9" text-anchor="middle">5</text>
<text x="427.4" y="1065.2" font-size="34.9" text-anchor="middle">10</text>
<text x="514.4" y="1065.2" font-size="34.9" text-anchor="middle">15</text>
<text x="601.4" y="1065.2" font-size="34.9" text-anchor="middle">20</text>
<text x="688.4" y="1065.2" font-size="34.9" text-anchor="middle">25</text>
<text x="775.4" y="1065.2" font-size="34.9" text-anchor="middle">30</text>
<text x="862.3" y="1065.2" font-size="34.9" text-anchor="middle">35</text>
<text x="949.3" y="1065.2" font-size="34.9" text-anchor="middle">40</text>
<text x="1036.3" y="1065.2" font-size="34.9" text-anchor="middle">45</text>
<text x="1123.3" y="1065.2" font-size="34.9" text-anchor="middle">50</text>
<text x="1210.3" y="1065.2" font-size="34.9" text-anchor="middle">55</text>
<text x="1297.3" y="1065.2" font-size="34.9" text-anchor="middle">60</text>
<text x="1384.3" y="1065.2" font-size="34.9" text-anchor="middle">65</text>
<path d="M1302.7 1106.6H1387" stroke="#4472c4" stroke-width="6.6" stroke-linecap="round"/>
<text x="1395.3" y="1117.5" font-size="34.9" text-anchor="start">5Sec</text>
<path d="M1302.7 1171.2H1387" stroke="#ed7d31" stroke-width="6.6" stroke-linecap="round"/>
<text x="1395.3" y="1182.2" font-size="34.9" text-anchor="start">10Sec</text>
<path d="M1302.7 1235.9H1387" stroke="#a5a5a5" stroke-width="6.6" stroke-linecap="round"/>
<text x="1395.3" y="1246.8" font-size="34.9" text-anchor="start">15Sec</text>
<path d="M1302.7 1300.5H1387" stroke="#ffc000" stroke-width="6.6" stroke-linecap="round"/>
<text x="1395.3" y="1311.5" font-size="34.9" text-anchor="start">20Sec</text>
<path d="M1302.7 1365.2H1387" stroke="#5b9bd5" stroke-width="6.6" stroke-linecap="round"/>
<text x="1395.3" y="1376.1" font-size="34.9" text-anchor="start">25Sec</text>
<path d="M1302.7 1429.8H1387" stroke="#70ad47" stroke-width="6.6" stroke-linecap="round"/>
<text x="1395.3" y="1440.8" font-size="34.9" text-anchor="start">30Sec</text>
<path d="M1302.7 1494.5H1387" stroke="#264478" stroke-width="6.6" stroke-linecap="round"/>
<text x="1395.3" y="1505.4" font-size="34.9" text-anchor="start">35Sec</text>
<path d="M1302.7 1559.2H1387" stroke="#9e480e" stroke-width="6.6" stroke-linecap="round"/>
<text x="1395.3" y="1570.1" font-size="34.9" text-anchor="start">40Sec</text>
<path d="M1302.7 1623.8H1387" stroke="#636363" stroke-width="6.6" stroke-linecap="round"/>
<text x="1395.3" y="1634.7" font-size="34.9" text-anchor="start">45Sec</text>
<path d="M1302.7 1688.4H1387" stroke="#997300" stroke-width="6.6" stroke-linecap="round"/>
<text x="1395.3" y="1699.3" font-size="34.9" text-anchor="start">60Sec</text>
<text x="734.8" y="977.6" font-size="44.2" text-anchor="middle" font-weight="bold">50 μm</text>
<text x="852" y="1807.3" font-size="44.2" text-anchor="middle" font-weight="bold">Time (Sec)</text>
<text transform="translate(30.8 1393.1) rotate(-90)" font-size="43.5" text-anchor="middle" font-weight="bold">Current Density (A)</text>
<rect x="1354.6" y="1731.7" width="139.4" height="95.5" fill="#fff" stroke="#000" stroke-width="3.3"/>
<text x="1424" y="1797" font-size="53.6" text-anchor="middle">(B)</text>
</g>
</svg>
</body>
</html>
